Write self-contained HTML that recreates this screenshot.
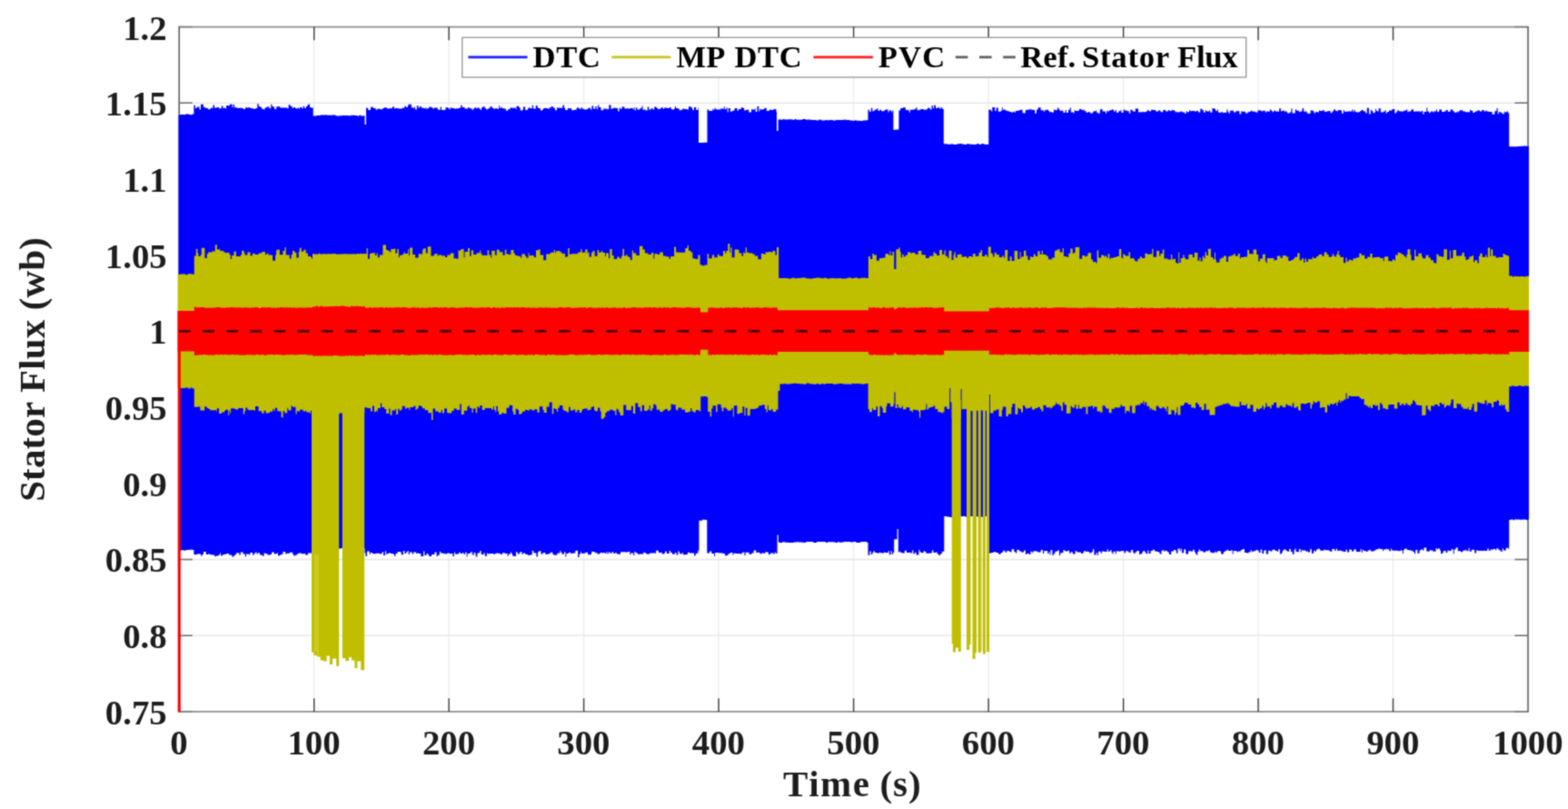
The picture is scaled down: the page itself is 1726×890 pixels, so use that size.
<!DOCTYPE html>
<html lang="en">
<head>
<meta charset="utf-8">
<title>Stator Flux - DTC / MP DTC / PVC</title>
<style>
html,body{margin:0;padding:0;background:#fff;}
body{width:1726px;height:890px;overflow:hidden;}
svg{display:block;}
text{font-family:"Liberation Serif","Times New Roman",Times,serif;font-weight:bold;fill:#1c1c1c;}
.tk{font-size:38.8px;}
.lb{font-size:41px;letter-spacing:1px;}
.lg text{font-size:34.6px;fill:#000;}
</style>
</head>
<body>
<svg width="1726" height="890" viewBox="0 0 1726 890">
<defs><filter id="soft" x="0" y="0" width="1726" height="890" filterUnits="userSpaceOnUse" color-interpolation-filters="sRGB"><feConvolveMatrix order="3" kernelMatrix="1 2 1 2 8 2 1 2 1" divisor="20" edgeMode="duplicate" preserveAlpha="true"/></filter></defs>
<rect x="0" y="0" width="1726" height="890" fill="#fff"/>
<g filter="url(#soft)">
<rect x="0" y="0" width="1726" height="890" fill="#fff"/>
<g stroke-width="1.6" fill="none">
<path stroke="#ececec" stroke-width="1.3" d="M345.7 29.6V782.9M494.2 29.6V782.9M642.6 29.6V782.9M791.1 29.6V782.9M939.6 29.6V782.9M1088.1 29.6V782.9M1236.6 29.6V782.9M1385 29.6V782.9M1533.5 29.6V782.9"/>
<path stroke="#e4e4e4" stroke-width="1.3" d="M197.2 113.3H1682M197.2 197H1682M197.2 280.7H1682M197.2 364.4H1682M197.2 448.1H1682M197.2 531.8H1682M197.2 615.5H1682M197.2 699.2H1682"/>
</g>
<g fill="none" stroke-width="1.8">
<path stroke="#8c8c8c" stroke-width="1.9" d="M196.4 29.6H1682.8M196.4 782.9H1682.8"/>
<path stroke="#3a3a3a" stroke-width="1.3" d="M197.2 29.6V782.9M1682 29.6V782.9"/>
<path stroke="#3a3a3a" stroke-width="1.4" d="M345.7 782.9v-14.6M345.7 29.6v14.6M494.2 782.9v-14.6M494.2 29.6v14.6M642.6 782.9v-14.6M642.6 29.6v14.6M791.1 782.9v-14.6M791.1 29.6v14.6M939.6 782.9v-14.6M939.6 29.6v14.6M1088.1 782.9v-14.6M1088.1 29.6v14.6M1236.6 782.9v-14.6M1236.6 29.6v14.6M1385 782.9v-14.6M1385 29.6v14.6M1533.5 782.9v-14.6M1533.5 29.6v14.6"/>
<path stroke="#6a6a6a" stroke-width="1.4" d="M197.2 113.3h14.6M1682 113.3h-14.6M197.2 197h14.6M1682 197h-14.6M197.2 280.7h14.6M1682 280.7h-14.6M197.2 364.4h14.6M1682 364.4h-14.6M197.2 448.1h14.6M1682 448.1h-14.6M197.2 531.8h14.6M1682 531.8h-14.6M197.2 615.5h14.6M1682 615.5h-14.6M197.2 699.2h14.6M1682 699.2h-14.6"/>
<path stroke="#444444" stroke-opacity="0.3" stroke-width="1.7" d="M197.2 29.6h14.6M1682 29.6h-14.6M197.2 782.9h14.6M1682 782.9h-14.6"/>
</g>
<path fill="#0000ff" d="M196.5 126.4L198.4 126.4L198.4 125.9L202 125.9L202 126.3L204.1 126.3L204.1 125.6L207.9 125.6L207.9 125.9L209.5 125.9L209.5 126.2L211.7 126.2L211.7 125.5L213.4 125.5L213.4 115.7L214.9 115.7L214.9 118.9L216.7 118.9L216.7 117.4L219.5 117.4L219.5 120.4L221 120.4L221 114.8L223.8 114.8L223.8 117.8L225.3 117.8L225.3 118.5L227.1 118.5L227.1 119L228.9 119L228.9 120.2L231.7 120.2L231.7 118.8L234.5 118.8L234.5 115.5L236 115.5L236 118.5L238.8 118.5L238.8 118.1L241 118.1L241 119.2L243.8 119.2L243.8 116.4L245.3 116.4L245.3 118.8L248.1 118.8L248.1 119.6L249.1 119.6L249.1 115.9L251.3 115.9L251.3 116.6L252.8 116.6L252.8 114.8L255.6 114.8L255.6 118.2L256.6 118.2L256.6 114.9L258.1 114.9L258.1 118.2L259.6 118.2L259.6 118.2L261.1 118.2L261.1 119.1L262.9 119.1L262.9 118.8L264.7 118.8L264.7 118.8L266.9 118.8L266.9 119.2L267.9 119.2L267.9 120L270.1 120L270.1 118L271.6 118L271.6 118.8L272.6 118.8L272.6 118.2L275.4 118.2L275.4 118.9L276.9 118.9L276.9 119.3L278.7 119.3L278.7 119.7L281.5 119.7L281.5 119.1L283.3 119.1L283.3 114.3L284.8 114.3L284.8 117L286.6 117L286.6 118.1L288.1 118.1L288.1 119.7L289.9 119.7L289.9 120.5L291.4 120.5L291.4 118.4L293.6 118.4L293.6 117.6L296.4 117.6L296.4 119.3L298.2 119.3L298.2 114.7L299.4 114.7L299.4 117.1L300.9 117.1L300.9 117.7L302.1 117.7L302.1 119.9L304.3 119.9L304.3 117.2L306.1 117.2L306.1 117.3L308.3 117.3L308.3 118.4L309.3 118.4L309.3 118.4L311.5 118.4L311.5 118.6L313.3 118.6L313.3 118.6L316.1 118.6L316.1 119.2L317.6 119.2L317.6 115.2L319.4 115.2L319.4 116.7L321.6 116.7L321.6 119.1L322.6 119.1L322.6 118.4L323.6 118.4L323.6 117.9L325.1 117.9L325.1 119.3L326.6 119.3L326.6 119.5L327.8 119.5L327.8 118.4L329 118.4L329 119.5L330 119.5L330 118.2L331 118.2L331 117.7L332.2 117.7L332.2 119.2L333.7 119.2L333.7 116.8L335.2 116.8L335.2 119L337 119L337 117.1L338.5 117.1L338.5 115.2L340 115.2L340 114.5L341 114.5L341 118.1L342.2 118.1L342.2 118.5L344.7 118.5L344.7 127.4L348.6 127.4L348.6 126.9L350.9 126.9L350.9 127L352.9 127L352.9 126.5L356.1 126.5L356.1 126.5L357.7 126.5L357.7 126.5L360.3 126.5L360.3 126.7L362.7 126.7L362.7 126.8L365.7 126.8L365.7 126.6L369.2 126.6L369.2 127.3L370.9 127.3L370.9 127.4L374.1 127.4L374.1 127.3L376.7 127.3L376.7 127L380.2 127L380.2 127L382.9 127L382.9 127.3L386.5 127.3L386.5 126.8L390.1 126.8L390.1 127.1L393 127.1L393 127.4L395.7 127.4L395.7 126.6L397.2 126.6L397.2 127.5L399.9 127.5L399.9 127.2L401.5 127.2L401.5 137L403 137L403 118.8L405.2 118.8L405.2 121L408 121L408 117.8L410.8 117.8L410.8 119.1L413.6 119.1L413.6 120.7L415.4 120.7L415.4 119.4L416.4 119.4L416.4 119.7L418.6 119.7L418.6 120.3L421.4 120.3L421.4 119.1L422.4 119.1L422.4 118.8L423.4 118.8L423.4 118L424.4 118L424.4 118.5L426.2 118.5L426.2 119.6L429 119.6L429 119L430 119L430 119.2L431.8 119.2L431.8 117.6L434 117.6L434 119.5L435.2 119.5L435.2 119.1L436.7 119.1L436.7 119.1L438.2 119.1L438.2 119.6L439.4 119.6L439.4 119.6L441.2 119.6L441.2 119.6L443 119.6L443 118.4L444.2 118.4L444.2 118.8L445.4 118.8L445.4 116.8L447.2 116.8L447.2 118.1L449 118.1L449 115.5L450 115.5L450 114.7L452.8 114.7L452.8 118.2L455 118.2L455 118.9L456 118.9L456 117.4L457 117.4L457 120.4L458.8 120.4L458.8 116.3L460.6 116.3L460.6 119L461.6 119L461.6 117.6L462.8 117.6L462.8 117.1L464 117.1L464 118.8L466.8 118.8L466.8 119.2L468.6 119.2L468.6 118.2L469.6 118.2L469.6 120.1L470.6 120.1L470.6 118.9L472.4 118.9L472.4 117.4L474.6 117.4L474.6 118.2L476.4 118.2L476.4 119.6L477.9 119.6L477.9 118.5L480.7 118.5L480.7 118.8L481.9 118.8L481.9 120.7L484.7 120.7L484.7 117.4L485.9 117.4L485.9 121L488.7 121L488.7 121L490.5 121L490.5 118.2L493.3 118.2L493.3 119.3L494.8 119.3L494.8 120.6L495.8 120.6L495.8 118.3L497.3 118.3L497.3 119.1L500.1 119.1L500.1 119.7L501.9 119.7L501.9 119.1L502.9 119.1L502.9 119.8L504.4 119.8L504.4 118.8L507.2 118.8L507.2 115.8L508.7 115.8L508.7 118.1L511.5 118.1L511.5 119.6L513.7 119.6L513.7 119.5L515.2 119.5L515.2 118.1L516.7 118.1L516.7 119.2L519.5 119.2L519.5 120.8L521.3 120.8L521.3 119.2L522.8 119.2L522.8 117.9L524 117.9L524 119.3L525.8 119.3L525.8 118.3L527.3 118.3L527.3 119.6L528.8 119.6L528.8 120.9L530 120.9L530 118.4L531 118.4L531 117.4L533.8 117.4L533.8 119L535 119L535 120.6L536.2 120.6L536.2 119.7L538.4 119.7L538.4 118.6L539.6 118.6L539.6 117.2L541.8 117.2L541.8 119.1L543 119.1L543 119.6L545.8 119.6L545.8 119L547 119L547 119.8L549.2 119.8L549.2 116.2L550.2 116.2L550.2 119.1L551.2 119.1L551.2 117.9L552.7 117.9L552.7 119.2L555.5 119.2L555.5 119.8L557 119.8L557 121.7L559.2 121.7L559.2 120.3L560.2 120.3L560.2 119.9L561.7 119.9L561.7 118.2L563.2 118.2L563.2 118.7L566 118.7L566 118.6L567.5 118.6L567.5 120.1L568.5 120.1L568.5 116.8L569.7 116.8L569.7 116.7L571.2 116.7L571.2 118.2L572.7 118.2L572.7 121.5L574.9 121.5L574.9 121L575.9 121L575.9 117.5L578.1 117.5L578.1 120.9L580.3 120.9L580.3 120.4L581.3 120.4L581.3 118.4L582.3 118.4L582.3 118.4L583.3 118.4L583.3 118.9L584.3 118.9L584.3 119.2L585.8 119.2L585.8 115.8L587 115.8L587 119.4L589.8 119.4L589.8 116.1L591.6 116.1L591.6 118.4L592.6 118.4L592.6 118.9L594.8 118.9L594.8 121.5L597 121.5L597 120.6L598.2 120.6L598.2 119.1L600.4 119.1L600.4 118.9L603.2 118.9L603.2 119.8L604.7 119.8L604.7 118.3L606.9 118.3L606.9 117L608.7 117L608.7 118.6L610.9 118.6L610.9 121.2L613.1 121.2L613.1 118.2L614.3 118.2L614.3 118.8L617.1 118.8L617.1 118.7L619.3 118.7L619.3 115.8L621.1 115.8L621.1 118.8L622.1 118.8L622.1 120.9L624.9 120.9L624.9 119L626.4 119L626.4 119.4L627.6 119.4L627.6 119L629.1 119L629.1 121.3L631.9 121.3L631.9 120.8L634.7 120.8L634.7 118.5L637.5 118.5L637.5 119.7L639.7 119.7L639.7 118L640.9 118L640.9 119.8L643.1 119.8L643.1 120.5L645.9 120.5L645.9 120.1L647.4 120.1L647.4 118.8L650.2 118.8L650.2 120.8L651.4 120.8L651.4 116.6L653.2 116.6L653.2 119.7L655.4 119.7L655.4 116.9L656.9 116.9L656.9 120.3L658.1 120.3L658.1 115.6L659.3 115.6L659.3 117.9L661.5 117.9L661.5 121.3L664.3 121.3L664.3 119L665.5 119L665.5 119.9L667.3 119.9L667.3 119.3L668.3 119.3L668.3 120.4L669.3 120.4L669.3 120.1L670.3 120.1L670.3 115.6L672.5 115.6L672.5 119.7L674.3 119.7L674.3 118.9L676.1 118.9L676.1 118.4L677.3 118.4L677.3 119L680.1 119L680.1 122.6L681.6 122.6L681.6 118.8L682.8 118.8L682.8 119.7L684.6 119.7L684.6 117.4L687.4 117.4L687.4 119.5L690.2 119.5L690.2 119.3L691.7 119.3L691.7 119.5L693.9 119.5L693.9 118.9L696.7 118.9L696.7 120.2L697.7 120.2L697.7 118.3L698.7 118.3L698.7 121.4L699.9 121.4L699.9 118.2L701.4 118.2L701.4 120.6L702.6 120.6L702.6 120.6L704.1 120.6L704.1 119.5L705.6 119.5L705.6 118.5L706.6 118.5L706.6 116.6L707.6 116.6L707.6 120.9L708.8 120.9L708.8 120.5L710.6 120.5L710.6 121.6L712.8 121.6L712.8 117.6L714.3 117.6L714.3 120.7L715.5 120.7L715.5 120.6L716.5 120.6L716.5 119.2L718.7 119.2L718.7 120.6L720.2 120.6L720.2 117.4L722.4 117.4L722.4 118.8L723.9 118.8L723.9 119.9L725.7 119.9L725.7 119.7L727.5 119.7L727.5 118.2L729.7 118.2L729.7 119.8L731.2 119.8L731.2 118.4L734 118.4L734 119.1L736.8 119.1L736.8 118L738.6 118L738.6 119.9L739.8 119.9L739.8 120.4L742 120.4L742 119.4L743 119.4L743 116.7L744 116.7L744 119.1L746.2 119.1L746.2 119.6L747.7 119.6L747.7 121.2L749.9 121.2L749.9 120.8L751.4 120.8L751.4 119.6L753.2 119.6L753.2 120.1L754.7 120.1L754.7 119.9L756.2 119.9L756.2 120.4L758 120.4L758 117.3L759.2 117.3L759.2 117.3L760.7 117.3L760.7 118.5L762.2 118.5L762.2 121.1L764 121.1L764 118L766.2 118L766.2 121L768.4 121L768.4 118.8L769 118.8L769 157L771 157L771 156.9L774.6 156.9L774.6 156.8L778.3 156.8L778.3 156.9L778.5 156.9L778.5 120.5L780.3 120.5L780.3 122.1L782.1 122.1L782.1 121.9L784.3 121.9L784.3 119.8L785.3 119.8L785.3 121.1L786.5 121.1L786.5 118.8L787.7 118.8L787.7 120.3L788.9 120.3L788.9 120.5L790.7 120.5L790.7 120.4L793.5 120.4L793.5 118.9L794.5 118.9L794.5 119.7L796.7 119.7L796.7 117.2L797.7 117.2L797.7 120.2L799.5 120.2L799.5 118.2L800.7 118.2L800.7 123.4L801.7 123.4L801.7 119L803.9 119L803.9 123L805.1 123L805.1 122.3L806.9 122.3L806.9 121.5L808.7 121.5L808.7 119L811.5 119L811.5 121.8L813 121.8L813 119.9L815.8 119.9L815.8 118.3L818 118.3L818 119.1L819.2 119.1L819.2 121.5L821 121.5L821 121.1L822.5 121.1L822.5 120.7L824.3 120.7L824.3 123.4L827.1 123.4L827.1 120.2L828.3 120.2L828.3 120.5L829.3 120.5L829.3 120.7L830.5 120.7L830.5 119.5L831.7 119.5L831.7 123.1L833.5 123.1L833.5 117.1L835.3 117.1L835.3 122.5L836.3 122.5L836.3 120.2L837.3 120.2L837.3 120.3L838.3 120.3L838.3 120.5L840.1 120.5L840.1 119.9L841.6 119.9L841.6 118.6L842.6 118.6L842.6 119.1L843.8 119.1L843.8 121.9L846.6 121.9L846.6 120.8L849.4 120.8L849.4 121L851.6 121L851.6 120L854.4 120L854.4 122.7L855 122.7L855 144L856.6 144L856.6 131.4L860 131.4L860 131.7L861.7 131.7L861.7 130.9L863.3 130.9L863.3 131.4L866.7 131.4L866.7 131.4L868.3 131.4L868.3 131.3L871.1 131.3L871.1 131.4L872.8 131.4L872.8 132L874.4 132L874.4 131.1L876.6 131.1L876.6 131.7L880.5 131.7L880.5 131.8L883.3 131.8L883.3 131.1L886.9 131.1L886.9 131.7L888.8 131.7L888.8 131.4L891.3 131.4L891.3 131.7L893.4 131.7L893.4 132.1L895.7 132.1L895.7 132.1L898.6 132.1L898.6 132.4L900.8 132.4L900.8 131.8L904.5 131.8L904.5 132.4L908.2 132.4L908.2 132L910.4 132L910.4 132.3L913.4 132.3L913.4 131.9L916.8 131.9L916.8 132.6L920 132.6L920 131.9L923.5 131.9L923.5 132L926.3 132L926.3 132.1L927.9 132.1L927.9 131.8L931.8 131.8L931.8 132L935.3 132L935.3 132.4L938 132.4L938 132.8L941.1 132.8L941.1 132.3L942.8 132.3L942.8 132.8L946.3 132.8L946.3 132.9L949.7 132.9L949.7 132.4L952.9 132.4L952.9 132.2L955.5 132.2L955.5 120.8L957 120.8L957 122.7L958.8 122.7L958.8 118.7L960.3 118.7L960.3 122.2L962.1 122.2L962.1 121.4L963.1 121.4L963.1 120.5L965.3 120.5L965.3 119.2L966.5 119.2L966.5 122.1L968.3 122.1L968.3 120.8L970.1 120.8L970.1 122.3L971.3 122.3L971.3 122.2L973.5 122.2L973.5 121.2L974.7 121.2L974.7 120.5L977.5 120.5L977.5 123.5L978.5 123.5L978.5 121.6L981.3 121.6L981.3 123.4L982.3 123.4L982.3 121.4L983.4 121.4L983.4 142.8L986.8 142.8L986.8 142.5L989.4 142.5L989.4 121.4L991.2 121.4L991.2 119.1L994 119.1L994 118.2L996.8 118.2L996.8 120.9L998.6 120.9L998.6 121.3L1000.8 121.3L1000.8 123.7L1001.8 123.7L1001.8 120.7L1004.6 120.7L1004.6 120.5L1006.8 120.5L1006.8 120.1L1008 120.1L1008 118.4L1009.5 118.4L1009.5 121.3L1010.5 121.3L1010.5 121.3L1012.3 121.3L1012.3 120.4L1014.1 120.4L1014.1 120L1016.9 120L1016.9 121.1L1018.1 121.1L1018.1 120.5L1020.9 120.5L1020.9 118.7L1023.7 118.7L1023.7 120.4L1025.5 120.4L1025.5 116.2L1027 116.2L1027 119.2L1028.2 119.2L1028.2 115.7L1030 115.7L1030 119.1L1032.2 119.1L1032.2 118.3L1034.4 118.3L1034.4 119.7L1035.6 119.7L1035.6 118.3L1037.4 118.3L1037.4 119.9L1038.8 119.9L1038.8 158.3L1042.7 158.3L1042.7 158.8L1045.8 158.8L1045.8 158.6L1049.7 158.6L1049.7 159.1L1053.6 159.1L1053.6 158.3L1056.2 158.3L1056.2 158.1L1058.4 158.1L1058.4 158.6L1061.1 158.6L1061.1 158.9L1064 158.9L1064 158.3L1067.2 158.3L1067.2 158.7L1070.8 158.7L1070.8 159L1074.7 159L1074.7 158.2L1076.5 158.2L1076.5 158.3L1078 158.3L1078 159L1080.3 159L1080.3 158.1L1082.4 158.1L1082.4 158.4L1084.1 158.4L1084.1 158.9L1086.2 158.9L1086.2 158.9L1088.3 158.9L1088.3 120.8L1091.1 120.8L1091.1 122.5L1092.3 122.5L1092.3 118.1L1095.1 118.1L1095.1 121.9L1096.6 121.9L1096.6 118.6L1098.8 118.6L1098.8 122.8L1101.6 122.8L1101.6 122.1L1102.8 122.1L1102.8 118.3L1103.8 118.3L1103.8 121.1L1104.8 121.1L1104.8 120.4L1106.6 120.4L1106.6 121.4L1108.1 121.4L1108.1 121.9L1109.6 121.9L1109.6 122.6L1111.4 122.6L1111.4 122.9L1113.2 122.9L1113.2 123.8L1114.7 123.8L1114.7 122.8L1116.5 122.8L1116.5 123.7L1117.7 123.7L1117.7 122.1L1120.5 122.1L1120.5 121.5L1122.7 121.5L1122.7 120.7L1125.5 120.7L1125.5 124.3L1127.3 124.3L1127.3 124.5L1128.8 124.5L1128.8 121.1L1130.6 121.1L1130.6 120.7L1133.4 120.7L1133.4 120.1L1134.9 120.1L1134.9 120.7L1137.7 120.7L1137.7 120.9L1139.2 120.9L1139.2 124.8L1141 124.8L1141 120.5L1142.8 120.5L1142.8 118.2L1145.6 118.2L1145.6 121.3L1146.6 121.3L1146.6 121.5L1147.6 121.5L1147.6 121L1148.8 121L1148.8 123.1L1149.8 123.1L1149.8 121.2L1151.3 121.2L1151.3 120.8L1154.1 120.8L1154.1 122.2L1155.3 122.2L1155.3 123.2L1158.1 123.2L1158.1 123.8L1159.9 123.8L1159.9 120.4L1161.4 120.4L1161.4 121.2L1162.9 121.2L1162.9 120.9L1163.9 120.9L1163.9 118.6L1165.4 118.6L1165.4 120.3L1166.4 120.3L1166.4 121.7L1167.6 121.7L1167.6 121.8L1170.4 121.8L1170.4 123.9L1172.6 123.9L1172.6 121L1173.8 121L1173.8 123.9L1176 123.9L1176 120.8L1177.8 120.8L1177.8 118.3L1178.8 118.3L1178.8 123.6L1181.6 123.6L1181.6 124.5L1182.6 124.5L1182.6 121.2L1183.8 121.2L1183.8 122L1186 122L1186 122L1187.8 122L1187.8 120.1L1190.6 120.1L1190.6 121.2L1192.4 121.2L1192.4 120.4L1193.6 120.4L1193.6 122.2L1195.8 122.2L1195.8 123.9L1197.6 123.9L1197.6 123L1199.8 123L1199.8 124.6L1201.3 124.6L1201.3 124.4L1203.1 124.4L1203.1 122.5L1205.9 122.5L1205.9 121.6L1207.1 121.6L1207.1 123.8L1208.6 123.8L1208.6 124.8L1210.8 124.8L1210.8 120.2L1213.6 120.2L1213.6 122.4L1214.8 122.4L1214.8 122.5L1217 122.5L1217 124.7L1218.2 124.7L1218.2 121.7L1219.2 121.7L1219.2 122.4L1221 122.4L1221 121.2L1223.8 121.2L1223.8 120.4L1226 120.4L1226 122.8L1227.5 122.8L1227.5 121.3L1229 121.3L1229 123.9L1231.2 123.9L1231.2 122.2L1233.4 122.2L1233.4 121.1L1234.4 121.1L1234.4 124.1L1236.6 124.1L1236.6 120.6L1237.8 120.6L1237.8 121.5L1240.6 121.5L1240.6 122.3L1242.8 122.3L1242.8 124.8L1244.3 124.8L1244.3 120.7L1246.5 120.7L1246.5 121.9L1247.5 121.9L1247.5 122.8L1249.7 122.8L1249.7 119.4L1251.5 119.4L1251.5 119.4L1253 119.4L1253 123.8L1254.2 123.8L1254.2 122.9L1255.2 122.9L1255.2 123.4L1256.2 123.4L1256.2 123.5L1257.4 123.5L1257.4 122.8L1258.4 122.8L1258.4 123.3L1261.2 123.3L1261.2 123.1L1262.4 123.1L1262.4 121.5L1265.2 121.5L1265.2 122.4L1267 122.4L1267 120.8L1269.2 120.8L1269.2 121L1272 121L1272 122.2L1273.5 122.2L1273.5 122.9L1274.7 122.9L1274.7 121.6L1277.5 121.6L1277.5 123.3L1280.3 123.3L1280.3 121L1283.1 121L1283.1 122.4L1285.9 122.4L1285.9 121.1L1287.4 121.1L1287.4 122.3L1288.6 122.3L1288.6 121.8L1290.1 121.8L1290.1 121L1291.3 121L1291.3 121.6L1293.5 121.6L1293.5 123.3L1296.3 123.3L1296.3 123.5L1298.5 123.5L1298.5 122.8L1300.3 122.8L1300.3 122.6L1301.3 122.6L1301.3 123.6L1304.1 123.6L1304.1 125L1305.6 125L1305.6 122.4L1306.8 122.4L1306.8 123.3L1309 123.3L1309 121.3L1310.2 121.3L1310.2 122.3L1312 122.3L1312 121.9L1314.8 121.9L1314.8 122.4L1316.3 122.4L1316.3 122.3L1317.8 122.3L1317.8 121.8L1319 121.8L1319 123.5L1321.2 123.5L1321.2 119.8L1323.4 119.8L1323.4 121.3L1324.9 121.3L1324.9 123.8L1326.7 123.8L1326.7 121.6L1328.2 121.6L1328.2 122.6L1331 122.6L1331 121.6L1332.2 121.6L1332.2 123.7L1334.4 123.7L1334.4 118.9L1336.2 118.9L1336.2 119.7L1338 119.7L1338 121.9L1339.8 121.9L1339.8 120.3L1340.8 120.3L1340.8 123.5L1342.3 123.5L1342.3 124.1L1344.5 124.1L1344.5 122.9L1346 122.9L1346 124.3L1347 124.3L1347 123.7L1348 123.7L1348 124.1L1350.2 124.1L1350.2 120.4L1351.4 120.4L1351.4 122.9L1352.6 122.9L1352.6 125.1L1353.8 125.1L1353.8 121.7L1356.6 121.7L1356.6 121.4L1357.8 121.4L1357.8 123.4L1360.6 123.4L1360.6 122L1362.4 122L1362.4 122.5L1363.4 122.5L1363.4 121.9L1364.4 121.9L1364.4 125.5L1366.2 125.5L1366.2 122.6L1368 122.6L1368 122.8L1370.8 122.8L1370.8 124.4L1373.6 124.4L1373.6 123.3L1375.1 123.3L1375.1 122.9L1376.6 122.9L1376.6 121.5L1377.6 121.5L1377.6 122.3L1379.1 122.3L1379.1 122.8L1380.1 122.8L1380.1 122.7L1382.3 122.7L1382.3 123.8L1384.5 123.8L1384.5 121.2L1385.7 121.2L1385.7 121.5L1388.5 121.5L1388.5 122.4L1390 122.4L1390 121.8L1392.8 121.8L1392.8 123.7L1393.8 123.7L1393.8 122.5L1396 122.5L1396 122.8L1397.8 122.8L1397.8 120.6L1399.3 120.6L1399.3 121.8L1400.5 121.8L1400.5 123.3L1402 123.3L1402 121.8L1403.8 121.8L1403.8 122.4L1406.6 122.4L1406.6 122.7L1408.1 122.7L1408.1 119.3L1409.9 119.3L1409.9 122.4L1411.1 122.4L1411.1 122L1412.6 122L1412.6 121.6L1413.8 121.6L1413.8 122.8L1414.8 122.8L1414.8 122.2L1416.3 122.2L1416.3 123.5L1417.3 123.5L1417.3 124.4L1420.1 124.4L1420.1 123.3L1421.3 123.3L1421.3 119.5L1422.5 119.5L1422.5 124.5L1424.7 124.5L1424.7 124.5L1425.7 124.5L1425.7 120.6L1427.2 120.6L1427.2 121.7L1430 121.7L1430 123.3L1431.2 123.3L1431.2 122.6L1433.4 122.6L1433.4 119.3L1435.2 119.3L1435.2 122.7L1436.7 122.7L1436.7 122.6L1438.5 122.6L1438.5 124.5L1440.3 124.5L1440.3 124.9L1442.5 124.9L1442.5 121.6L1445.3 121.6L1445.3 122.2L1446.3 122.2L1446.3 124.6L1447.8 124.6L1447.8 123.3L1450.6 123.3L1450.6 123.4L1451.8 123.4L1451.8 121.6L1453 121.6L1453 121.9L1454.8 121.9L1454.8 121.7L1456.6 121.7L1456.6 121.1L1457.8 121.1L1457.8 123L1460.6 123L1460.6 122.3L1463.4 122.3L1463.4 122.1L1464.6 122.1L1464.6 124.2L1466.4 124.2L1466.4 122.4L1467.9 122.4L1467.9 120.5L1470.1 120.5L1470.1 122.1L1471.9 122.1L1471.9 122.2L1473.1 122.2L1473.1 120.9L1475.9 120.9L1475.9 121.4L1476.9 121.4L1476.9 124.7L1478.7 124.7L1478.7 121.1L1479.7 121.1L1479.7 122.8L1481.5 122.8L1481.5 122.8L1483.7 122.8L1483.7 122.4L1486.5 122.4L1486.5 122.6L1488.3 122.6L1488.3 120.6L1489.5 120.6L1489.5 123.2L1490.5 123.2L1490.5 121.1L1491.7 121.1L1491.7 122.9L1492.9 122.9L1492.9 123.4L1493.9 123.4L1493.9 123.4L1495.4 123.4L1495.4 123.2L1497.2 123.2L1497.2 121.9L1498.2 121.9L1498.2 121.2L1501 121.2L1501 122.6L1503.2 122.6L1503.2 124.5L1504.7 124.5L1504.7 118.7L1506.9 118.7L1506.9 125.6L1508.7 125.6L1508.7 120.6L1509.7 120.6L1509.7 121.9L1511.2 121.9L1511.2 124.2L1512.7 124.2L1512.7 123.7L1513.9 123.7L1513.9 119.7L1514.9 119.7L1514.9 121.9L1516.1 121.9L1516.1 122.6L1517.6 122.6L1517.6 119.2L1519.8 119.2L1519.8 123.4L1522.6 123.4L1522.6 122.8L1524.4 122.8L1524.4 121.3L1525.6 121.3L1525.6 124.7L1526.8 124.7L1526.8 123L1529 123L1529 121.6L1530.2 121.6L1530.2 121.6L1532.4 121.6L1532.4 119.9L1535.2 119.9L1535.2 124.6L1536.7 124.6L1536.7 123.5L1537.9 123.5L1537.9 121.4L1540.1 121.4L1540.1 122.4L1542.3 122.4L1542.3 122.5L1543.3 122.5L1543.3 122.4L1545.5 122.4L1545.5 121.4L1548.3 121.4L1548.3 120.2L1549.3 120.2L1549.3 123.3L1550.5 123.3L1550.5 122.5L1553.3 122.5L1553.3 120.6L1556.1 120.6L1556.1 122.9L1557.3 122.9L1557.3 122.6L1559.1 122.6L1559.1 122.6L1560.6 122.6L1560.6 122.5L1563.4 122.5L1563.4 123.2L1564.4 123.2L1564.4 122L1566.2 122L1566.2 125.7L1567.4 125.7L1567.4 123.1L1570.2 123.1L1570.2 118.6L1571.2 118.6L1571.2 122.4L1573 122.4L1573 124.6L1574.2 124.6L1574.2 123.3L1575.2 123.3L1575.2 122.5L1577.4 122.5L1577.4 123.6L1578.6 123.6L1578.6 121.9L1579.6 121.9L1579.6 122.7L1580.8 122.7L1580.8 120.6L1582 120.6L1582 123L1584.2 123L1584.2 120.5L1587 120.5L1587 123.1L1589.8 123.1L1589.8 122.5L1591.6 122.5L1591.6 121.1L1593.8 121.1L1593.8 122.9L1595.3 122.9L1595.3 122.7L1596.5 122.7L1596.5 120.6L1599.3 120.6L1599.3 122.4L1601.1 122.4L1601.1 123.9L1602.6 123.9L1602.6 123.5L1604.1 123.5L1604.1 122.4L1605.1 122.4L1605.1 123.4L1606.1 123.4L1606.1 121.8L1607.3 121.8L1607.3 121.3L1610.1 121.3L1610.1 122.5L1612.9 122.5L1612.9 123.3L1614.1 123.3L1614.1 123.2L1616.9 123.2L1616.9 123.4L1617.9 123.4L1617.9 120.8L1619.1 120.8L1619.1 121.8L1621.3 121.8L1621.3 124.1L1623.1 124.1L1623.1 123.3L1624.1 123.3L1624.1 122.4L1625.1 122.4L1625.1 122.5L1626.1 122.5L1626.1 121.5L1628.9 121.5L1628.9 122.4L1631.1 122.4L1631.1 121.3L1633.9 121.3L1633.9 122.8L1635.1 122.8L1635.1 121.7L1636.9 121.7L1636.9 122.7L1639.7 122.7L1639.7 123.1L1642.5 123.1L1642.5 125.7L1645.3 125.7L1645.3 122.2L1647.5 122.2L1647.5 119.1L1648.7 119.1L1648.7 125.6L1649.7 125.6L1649.7 123.2L1652.5 123.2L1652.5 124.4L1654.3 124.4L1654.3 125.5L1655.8 125.5L1655.8 122.7L1656.8 122.7L1656.8 123.4L1658.6 123.4L1658.6 122.6L1660.1 122.6L1660.1 124.4L1661.2 124.4L1661.2 161.3L1663.8 161.3L1663.8 161.2L1667.8 161.2L1667.8 161.3L1670.9 161.3L1670.9 161.1L1673.8 161.1L1673.8 160.8L1677.6 160.8L1677.6 160.4L1680.4 160.4L1680.4 161L1682.1 161L1682.1 160.8L1683 160.8L1683 571.6L1681.8 571.6L1681.8 572.1L1679.8 572.1L1679.8 571.4L1675.9 571.4L1675.9 571.8L1673.1 571.8L1673.1 571.6L1669.6 571.6L1669.6 571.6L1667 571.6L1667 572.2L1665.5 572.2L1665.5 571.5L1662.8 571.5L1662.8 572L1661.2 572L1661.2 604.6L1660.5 604.6L1660.5 602.7L1657.7 602.7L1657.7 605.4L1654.9 605.4L1654.9 603.4L1653.7 603.4L1653.7 607L1652.2 607L1652.2 605.5L1650.7 605.5L1650.7 605L1649.5 605L1649.5 603.3L1647.3 603.3L1647.3 605.3L1646.1 605.3L1646.1 603.9L1643.3 603.9L1643.3 605.2L1642.3 605.2L1642.3 604.2L1640.8 604.2L1640.8 605.8L1638.6 605.8L1638.6 603.6L1637.1 603.6L1637.1 605.9L1634.3 605.9L1634.3 605.6L1633.3 605.6L1633.3 606L1630.5 606L1630.5 605.8L1629 605.8L1629 606L1627.2 606L1627.2 605.6L1625 605.6L1625 608.6L1623.2 608.6L1623.2 604.7L1621 604.7L1621 604.8L1619.8 604.8L1619.8 606.7L1617.6 606.7L1617.6 602.8L1616.6 602.8L1616.6 606.1L1615.4 606.1L1615.4 606.4L1614.4 606.4L1614.4 604.7L1613.4 604.7L1613.4 605.5L1611.6 605.5L1611.6 605.7L1610.1 605.7L1610.1 607.2L1607.9 607.2L1607.9 606.2L1606.9 606.2L1606.9 606.1L1605.7 606.1L1605.7 606.4L1604.7 606.4L1604.7 602.6L1602.5 602.6L1602.5 604.4L1600.7 604.4L1600.7 609.3L1599.7 609.3L1599.7 604.2L1597.5 604.2L1597.5 606.1L1596.3 606.1L1596.3 605.9L1594.8 605.9L1594.8 605.6L1593.3 605.6L1593.3 608L1591.5 608L1591.5 606L1588.7 606L1588.7 608.6L1587.2 608.6L1587.2 609.3L1586 609.3L1586 605.4L1585 605.4L1585 603.5L1582.8 603.5L1582.8 604.6L1581.8 604.6L1581.8 603L1580.6 603L1580.6 606.5L1579.6 606.5L1579.6 606.8L1577.4 606.8L1577.4 605.6L1575.2 605.6L1575.2 605.2L1573.4 605.2L1573.4 606.9L1572.4 606.9L1572.4 606.4L1570.2 606.4L1570.2 602.6L1567.4 602.6L1567.4 605.5L1565.9 605.5L1565.9 604.2L1564.7 604.2L1564.7 604.7L1563.7 604.7L1563.7 605.6L1562.5 605.6L1562.5 608.8L1560.3 608.8L1560.3 605.1L1558.1 605.1L1558.1 609.3L1556.9 609.3L1556.9 607.2L1555.7 607.2L1555.7 606.2L1554.2 606.2L1554.2 605.5L1551.4 605.5L1551.4 605.1L1548.6 605.1L1548.6 603.5L1547.1 603.5L1547.1 603.8L1545.9 603.8L1545.9 605L1544.9 605L1544.9 608.9L1543.9 608.9L1543.9 605.6L1541.7 605.6L1541.7 605.9L1540.7 605.9L1540.7 606.2L1539.2 606.2L1539.2 605.7L1537 605.7L1537 605.7L1534.2 605.7L1534.2 605.4L1532 605.4L1532 603.6L1531 603.6L1531 606.3L1529.2 606.3L1529.2 604L1528.2 604L1528.2 604.7L1527.2 604.7L1527.2 603.7L1525.7 603.7L1525.7 604.6L1522.9 604.6L1522.9 606.3L1521.9 606.3L1521.9 603.9L1519.1 603.9L1519.1 603.6L1517.3 603.6L1517.3 604.3L1514.5 604.3L1514.5 605.7L1513.5 605.7L1513.5 605.3L1512.5 605.3L1512.5 606.5L1509.7 606.5L1509.7 606.3L1508.7 606.3L1508.7 604.4L1507.7 604.4L1507.7 605.4L1505.5 605.4L1505.5 607.1L1503.7 607.1L1503.7 606L1500.9 606L1500.9 604.8L1499.9 604.8L1499.9 607.7L1498.7 607.7L1498.7 604.1L1497.5 604.1L1497.5 606.9L1494.7 606.9L1494.7 606.9L1492.9 606.9L1492.9 604.6L1490.1 604.6L1490.1 606.5L1489.1 606.5L1489.1 606.8L1488.1 606.8L1488.1 604.7L1486.3 604.7L1486.3 604.6L1485.1 604.6L1485.1 607.6L1482.9 607.6L1482.9 604.7L1481.4 604.7L1481.4 607.1L1479.2 607.1L1479.2 606.6L1477 606.6L1477 605.7L1474.8 605.7L1474.8 605.4L1473.6 605.4L1473.6 606L1472.1 606L1472.1 603.8L1470.6 603.8L1470.6 606L1469.1 606L1469.1 604.1L1466.3 604.1L1466.3 606.8L1464.1 606.8L1464.1 605.9L1463.1 605.9L1463.1 605.2L1460.9 605.2L1460.9 605.2L1458.7 605.2L1458.7 604.8L1457.2 604.8L1457.2 605.8L1456.2 605.8L1456.2 605.8L1454 605.8L1454 605.6L1453 605.6L1453 603.8L1450.2 603.8L1450.2 604.8L1448.7 604.8L1448.7 606.9L1447.5 606.9L1447.5 605.7L1446 605.7L1446 608.7L1443.8 608.7L1443.8 604.3L1442 604.3L1442 607.6L1439.8 607.6L1439.8 606.4L1437 606.4L1437 605.2L1435.5 605.2L1435.5 606.1L1434.3 606.1L1434.3 604.9L1432.8 604.9L1432.8 607.5L1431.6 607.5L1431.6 604L1429.8 604L1429.8 607.2L1428 607.2L1428 607L1426.5 607L1426.5 603.4L1425.5 603.4L1425.5 604.9L1424.5 604.9L1424.5 609.8L1422.7 609.8L1422.7 607L1420.9 607L1420.9 603.9L1419.1 603.9L1419.1 606.8L1418.1 606.8L1418.1 606.7L1417.1 606.7L1417.1 605.8L1415.3 605.8L1415.3 604.3L1413.5 604.3L1413.5 605.6L1411.7 605.6L1411.7 608L1410.7 608L1410.7 609.6L1408.9 609.6L1408.9 604.2L1407.1 604.2L1407.1 606.9L1405.9 606.9L1405.9 606L1403.7 606L1403.7 604.7L1401.9 604.7L1401.9 604.7L1400.4 604.7L1400.4 606.6L1398.2 606.6L1398.2 605.7L1396 605.7L1396 609.4L1393.8 609.4L1393.8 605.1L1392.6 605.1L1392.6 605.7L1391.1 605.7L1391.1 609L1389.3 609L1389.3 604.6L1387.5 604.6L1387.5 608.1L1385.7 608.1L1385.7 605.8L1384.5 605.8L1384.5 605L1383.3 605L1383.3 605.5L1381.5 605.5L1381.5 606.4L1378.7 606.4L1378.7 607.2L1377.7 607.2L1377.7 605L1376.7 605L1376.7 607.2L1374.5 607.2L1374.5 608.4L1372.7 608.4L1372.7 608.1L1369.9 608.1L1369.9 604.1L1367.7 604.1L1367.7 605L1365.9 605L1365.9 606.5L1363.1 606.5L1363.1 607.2L1361.6 607.2L1361.6 605.9L1360.4 605.9L1360.4 605.9L1357.6 605.9L1357.6 609.5L1356.6 609.5L1356.6 605.3L1355.1 605.3L1355.1 606L1352.9 606L1352.9 606.1L1351.9 606.1L1351.9 604.4L1350.9 604.4L1350.9 605.8L1348.7 605.8L1348.7 607.1L1346.9 607.1L1346.9 609.5L1344.1 609.5L1344.1 606.4L1342.3 606.4L1342.3 605.9L1340.5 605.9L1340.5 606.9L1339.5 606.9L1339.5 608L1338.3 608L1338.3 606.8L1337.1 606.8L1337.1 608.3L1334.3 608.3L1334.3 607.7L1332.1 607.7L1332.1 605.6L1329.9 605.6L1329.9 606.2L1327.1 606.2L1327.1 607.4L1324.3 607.4L1324.3 606.2L1322.5 606.2L1322.5 606.2L1321 606.2L1321 604.6L1319.8 604.6L1319.8 606.8L1318.3 606.8L1318.3 610.6L1316.8 610.6L1316.8 609L1315.8 609L1315.8 607L1314.8 607L1314.8 604.8L1313 604.8L1313 606.8L1311.5 606.8L1311.5 606.2L1309.3 606.2L1309.3 606.2L1308.1 606.2L1308.1 609.6L1305.3 609.6L1305.3 604.5L1303.1 604.5L1303.1 608.3L1300.9 608.3L1300.9 603.7L1299.7 603.7L1299.7 606.2L1298.7 606.2L1298.7 603.4L1296.5 603.4L1296.5 608.5L1294.7 608.5L1294.7 605.3L1293.7 605.3L1293.7 605.1L1291.9 605.1L1291.9 606.6L1289.1 606.6L1289.1 609.9L1286.9 609.9L1286.9 607.5L1285.4 607.5L1285.4 606.4L1284.4 606.4L1284.4 605.9L1283.4 605.9L1283.4 605.7L1282.2 605.7L1282.2 606.8L1281.2 606.8L1281.2 605.3L1279.7 605.3L1279.7 605.7L1278.5 605.7L1278.5 609.6L1276.7 609.6L1276.7 607.5L1275.2 607.5L1275.2 606.9L1273.7 606.9L1273.7 606.5L1272.2 606.5L1272.2 606.6L1271 606.6L1271 604.8L1268.8 604.8L1268.8 605.9L1266.6 605.9L1266.6 609L1264.4 609L1264.4 605.5L1263.2 605.5L1263.2 609.2L1261.4 609.2L1261.4 607.5L1260.2 607.5L1260.2 605.9L1258.4 605.9L1258.4 606.9L1257.4 606.9L1257.4 609.2L1255.2 609.2L1255.2 609.9L1254 609.9L1254 605.9L1251.2 605.9L1251.2 607.4L1249.4 607.4L1249.4 609.3L1248.2 609.3L1248.2 607.9L1247.2 607.9L1247.2 605.1L1245.7 605.1L1245.7 605.4L1244.7 605.4L1244.7 608L1242.5 608L1242.5 606.6L1240.7 606.6L1240.7 605.9L1239.2 605.9L1239.2 608.2L1237.4 608.2L1237.4 606L1235.9 606L1235.9 606L1233.7 606L1233.7 606.7L1231.5 606.7L1231.5 606.3L1229.7 606.3L1229.7 606.5L1228.7 606.5L1228.7 609.5L1227.7 609.5L1227.7 606.8L1225.5 606.8L1225.5 609.6L1224.5 609.6L1224.5 607.7L1223.5 607.7L1223.5 605.3L1222 605.3L1222 606.8L1219.8 606.8L1219.8 604.2L1218.6 604.2L1218.6 607.1L1215.8 607.1L1215.8 606.4L1213 606.4L1213 608.7L1211.8 608.7L1211.8 606.8L1209 606.8L1209 610.7L1207.8 610.7L1207.8 608L1206.6 608L1206.6 610.5L1204.4 610.5L1204.4 604.3L1202.9 604.3L1202.9 607.2L1201.4 607.2L1201.4 608.4L1199.2 608.4L1199.2 607.1L1197.4 607.1L1197.4 606.8L1196.2 606.8L1196.2 606.8L1194.7 606.8L1194.7 606.1L1193.2 606.1L1193.2 607.6L1192.2 607.6L1192.2 609L1190 609L1190 607.5L1187.8 607.5L1187.8 607.6L1185.6 607.6L1185.6 606.5L1184.6 606.5L1184.6 606L1183.6 606L1183.6 609.4L1180.8 609.4L1180.8 607.2L1178.6 607.2L1178.6 608.7L1177.1 608.7L1177.1 605.8L1175.3 605.8L1175.3 606.5L1173.1 606.5L1173.1 606L1171.6 606L1171.6 605.1L1170.4 605.1L1170.4 607.9L1168.6 607.9L1168.6 608.4L1167.1 608.4L1167.1 611.3L1165.9 611.3L1165.9 605.3L1164.7 605.3L1164.7 606.3L1163.2 606.3L1163.2 606.8L1161.4 606.8L1161.4 608.8L1160.2 608.8L1160.2 610.8L1158.4 610.8L1158.4 605L1156.6 605L1156.6 610.5L1155.6 610.5L1155.6 607.1L1154.6 607.1L1154.6 608.9L1153.1 608.9L1153.1 605.9L1150.3 605.9L1150.3 606.3L1149.1 606.3L1149.1 609L1147.9 609L1147.9 604.9L1145.7 604.9L1145.7 607.6L1143.9 607.6L1143.9 607.6L1142.4 607.6L1142.4 606.7L1141.2 606.7L1141.2 606.2L1138.4 606.2L1138.4 606.6L1137.2 606.6L1137.2 608.2L1136.2 608.2L1136.2 606.7L1134.4 606.7L1134.4 610L1132.9 610L1132.9 609.1L1130.1 609.1L1130.1 610L1128.9 610L1128.9 605.5L1127.1 605.5L1127.1 607.6L1124.3 607.6L1124.3 606.5L1122.1 606.5L1122.1 605.1L1119.3 605.1L1119.3 608.5L1117.8 608.5L1117.8 606.9L1116.3 606.9L1116.3 604.3L1113.5 604.3L1113.5 607.4L1112.5 607.4L1112.5 607.1L1111 607.1L1111 606.1L1108.2 606.1L1108.2 607.7L1106.4 607.7L1106.4 605.7L1104.2 605.7L1104.2 607.5L1103 607.5L1103 608.1L1101.8 608.1L1101.8 609.4L1099 609.4L1099 607.9L1096.2 607.9L1096.2 606.9L1095 606.9L1095 607.2L1093.5 607.2L1093.5 608.1L1092 608.1L1092 608.3L1090.2 608.3L1090.2 608.7L1089 608.7L1089 568.8L1087.4 568.8L1087.4 568L1084.3 568L1084.3 568.5L1082.3 568.5L1082.3 569L1078.5 569L1078.5 568.5L1075.6 568.5L1075.6 567.9L1073.7 567.9L1073.7 568.1L1069.9 568.1L1069.9 568L1066.4 568L1066.4 568.9L1063.3 568.9L1063.3 568.1L1059.4 568.1L1059.4 568.1L1056.9 568.1L1056.9 568.2L1055.1 568.2L1055.1 568.2L1051.2 568.2L1051.2 568.8L1047.9 568.8L1047.9 569L1045.3 569L1045.3 568.6L1042.2 568.6L1042.2 568L1039.3 568L1039.3 606.7L1036.9 606.7L1036.9 609.1L1035.4 609.1L1035.4 610.7L1033.2 610.7L1033.2 609.5L1031.7 609.5L1031.7 607.6L1030.2 607.6L1030.2 608L1027.4 608L1027.4 605.6L1025.9 605.6L1025.9 608.4L1023.1 608.4L1023.1 608.8L1022.1 608.8L1022.1 608.8L1019.3 608.8L1019.3 607L1018.1 607L1018.1 606L1016.9 606L1016.9 607.8L1015.9 607.8L1015.9 608.2L1014.4 608.2L1014.4 607.7L1013.4 607.7L1013.4 607L1012.4 607L1012.4 604.8L1011.4 604.8L1011.4 610.5L1008.6 610.5L1008.6 607.8L1007.1 607.8L1007.1 609.2L1005.3 609.2L1005.3 605.6L1004.1 605.6L1004.1 608.5L1002.3 608.5L1002.3 607.7L1000.8 607.7L1000.8 608.1L998 608.1L998 605.8L995.8 605.8L995.8 608.6L993 608.6L993 607.7L992 607.7L992 607.9L991 607.9L991 606.4L990 606.4L990 607.4L988.8 607.4L988.8 582L987.6 582L987.6 593.2L984.2 593.2L984.2 607.9L983 607.9L983 609.9L981.8 609.9L981.8 606.3L980.6 606.3L980.6 610.2L978.8 610.2L978.8 605.9L977.8 605.9L977.8 608L976.8 608L976.8 607.9L974 607.9L974 607.5L972.8 607.5L972.8 608.8L971.6 608.8L971.6 608.3L968.8 608.3L968.8 607.7L967.3 607.7L967.3 608.9L965.8 608.9L965.8 608.1L964.8 608.1L964.8 608.1L963 608.1L963 606.3L961.5 606.3L961.5 608.1L960.3 608.1L960.3 609.9L958.8 609.9L958.8 606.5L957.3 606.5L957.3 610.8L955.5 610.8L955.5 596.7L954 596.7L954 595.9L951.8 595.9L951.8 595.9L948.1 595.9L948.1 596.5L946.3 596.5L946.3 596.9L942.5 596.9L942.5 596L938.7 596L938.7 596.4L936.3 596.4L936.3 596.1L932.3 596.1L932.3 596.1L928.9 596.1L928.9 596.4L927.2 596.4L927.2 596.8L924.2 596.8L924.2 596.2L921.9 596.2L921.9 597.1L919.8 597.1L919.8 596.4L917.8 596.4L917.8 596.2L914.2 596.2L914.2 596.2L911 596.2L911 596.9L908.9 596.9L908.9 596.1L905.5 596.1L905.5 596L901.9 596L901.9 595.9L899 595.9L899 597L897 597L897 597.1L895.2 597.1L895.2 596L893.7 596L893.7 596.1L890.1 596.1L890.1 595.9L887.1 595.9L887.1 596.9L885.2 596.9L885.2 596.8L882.6 596.8L882.6 596.6L879 596.6L879 596.3L876.7 596.3L876.7 596.6L873.9 596.6L873.9 597L870.6 597L870.6 597L867.8 597L867.8 596.7L863.9 596.7L863.9 596.3L861.4 596.3L861.4 597L858.5 597L858.5 596.8L856.8 596.8L856.8 588.5L855.6 588.5L855.6 608.9L854.1 608.9L854.1 607.4L852.9 607.4L852.9 609.4L851.4 609.4L851.4 608.4L849.6 608.4L849.6 608.4L848.1 608.4L848.1 609.7L846.9 609.7L846.9 610.3L845.9 610.3L845.9 607.4L844.1 607.4L844.1 607.3L842.3 607.3L842.3 608.7L840.1 608.7L840.1 608.3L838.6 608.3L838.6 609.3L836.4 609.3L836.4 607.7L834.2 607.7L834.2 608.1L832.4 608.1L832.4 605.6L829.6 605.6L829.6 608.6L827.4 608.6L827.4 609.7L824.6 609.7L824.6 607.8L822.8 607.8L822.8 607.8L820.6 607.8L820.6 611L819.4 611L819.4 607.4L817.6 607.4L817.6 608.2L816.6 608.2L816.6 609.6L815.4 609.6L815.4 609.2L814.2 609.2L814.2 608.9L811.4 608.9L811.4 608.9L810.2 608.9L810.2 608.8L807.4 608.8L807.4 610.4L806.4 610.4L806.4 608.1L803.6 608.1L803.6 609.2L801.4 609.2L801.4 610.9L800.2 610.9L800.2 611.2L798 611.2L798 608.9L795.8 608.9L795.8 608.4L793 608.4L793 608.2L790.8 608.2L790.8 608L788.6 608L788.6 607.9L787.1 607.9L787.1 612.1L786.1 612.1L786.1 609.1L783.3 609.1L783.3 606.5L781.1 606.5L781.1 608.6L778.3 608.6L778.3 572L776.8 572L776.8 571.7L772.9 571.7L772.9 572.8L769.5 572.8L769.5 610L769.4 610L769.4 605.4L768.4 605.4L768.4 608.5L766.6 608.5L766.6 609.4L765.6 609.4L765.6 611.6L764.1 611.6L764.1 608.5L761.9 608.5L761.9 608.6L759.1 608.6L759.1 607.7L756.9 607.7L756.9 609.9L754.7 609.9L754.7 610.3L751.9 610.3L751.9 608.2L750.7 608.2L750.7 609.4L748.9 609.4L748.9 608.7L747.9 608.7L747.9 606.4L746.4 606.4L746.4 610.4L744.6 610.4L744.6 608.1L742.8 608.1L742.8 609.7L740 609.7L740 608L738.2 608L738.2 606L736.7 606L736.7 609L733.9 609L733.9 606.6L732.1 606.6L732.1 608.7L730.9 608.7L730.9 609.4L728.7 609.4L728.7 607.7L727.7 607.7L727.7 607.9L724.9 607.9L724.9 605.7L722.1 605.7L722.1 609L720.9 609L720.9 607.9L719.9 607.9L719.9 608.4L717.1 608.4L717.1 608.5L715.3 608.5L715.3 609.4L714.1 609.4L714.1 609.4L711.3 609.4L711.3 608.3L709.5 608.3L709.5 607.4L708.3 607.4L708.3 609.6L706.5 609.6L706.5 609.6L703.7 609.6L703.7 610L702.2 610L702.2 608.4L700.7 608.4L700.7 608.1L699.5 608.1L699.5 606.7L698.3 606.7L698.3 610.9L697.1 610.9L697.1 608.5L694.3 608.5L694.3 610.2L693.3 610.2L693.3 606.7L692.1 606.7L692.1 607.3L690.3 607.3L690.3 607.4L688.5 607.4L688.5 607.3L687 607.3L687 607.2L684.8 607.2L684.8 607.3L683 607.3L683 609.8L681.2 609.8L681.2 609.6L679 609.6L679 608.3L676.8 608.3L676.8 608.9L675.3 608.9L675.3 607.2L673.5 607.2L673.5 608.7L672.5 608.7L672.5 608.6L671.5 608.6L671.5 607.6L669.7 607.6L669.7 609.6L668.5 609.6L668.5 607.1L667.5 607.1L667.5 609.1L666 609.1L666 608.1L665 608.1L665 608.2L662.2 608.2L662.2 608L660.4 608L660.4 609.6L657.6 609.6L657.6 608.2L655.4 608.2L655.4 607.4L654.4 607.4L654.4 607L652.9 607L652.9 606.7L651.1 606.7L651.1 609.7L649.9 609.7L649.9 610.2L647.1 610.2L647.1 607.8L644.3 607.8L644.3 608.8L643.1 608.8L643.1 608.8L641.3 608.8L641.3 609L640.1 609L640.1 607.3L639.1 607.3L639.1 609.4L637.6 609.4L637.6 613L636.1 613L636.1 605.8L633.3 605.8L633.3 608.6L630.5 608.6L630.5 609.1L628.3 609.1L628.3 607.7L627.1 607.7L627.1 608.1L625.6 608.1L625.6 609.1L623.4 609.1L623.4 612.4L622.4 612.4L622.4 607.2L620.9 607.2L620.9 609.8L618.7 609.8L618.7 608L617.5 608L617.5 606.1L616.3 606.1L616.3 608.7L615.3 608.7L615.3 608.5L613.5 608.5L613.5 610.5L611.7 610.5L611.7 610.7L609.9 610.7L609.9 610L608.4 610L608.4 607.7L605.6 607.7L605.6 609.2L603.4 609.2L603.4 609.8L601.9 609.8L601.9 609.9L600.4 609.9L600.4 607.9L597.6 607.9L597.6 609.6L595.4 609.6L595.4 606.2L593.2 606.2L593.2 607.2L592 607.2L592 612.4L590.5 612.4L590.5 608.4L588.3 608.4L588.3 608.1L587.3 608.1L587.3 605.7L585.8 605.7L585.8 610.2L583.6 610.2L583.6 610.9L581.4 610.9L581.4 610.1L578.6 610.1L578.6 609.1L577.6 609.1L577.6 608.4L575.4 608.4L575.4 609.9L574.4 609.9L574.4 607L572.6 607L572.6 608.6L571.4 608.6L571.4 609.9L570.4 609.9L570.4 608.6L569.2 608.6L569.2 606.9L568 606.9L568 611.9L566.2 611.9L566.2 611.6L564 611.6L564 609.1L563 609.1L563 607.4L562 607.4L562 609.5L559.8 609.5L559.8 611.8L558.6 611.8L558.6 608.7L557.1 608.7L557.1 609.2L555.9 609.2L555.9 608.2L553.1 608.2L553.1 609.8L550.3 609.8L550.3 608.5L549.1 608.5L549.1 609.1L547.9 609.1L547.9 608.2L546.7 608.2L546.7 609.1L544.9 609.1L544.9 609.8L543.1 609.8L543.1 609L541.3 609L541.3 609L539.5 609L539.5 609.1L538.3 609.1L538.3 609.5L537.1 609.5L537.1 608.4L535.9 608.4L535.9 611.8L533.7 611.8L533.7 608.3L532.5 608.3L532.5 610L529.7 610L529.7 606L528.2 606L528.2 608.3L526.4 608.3L526.4 608.7L525.4 608.7L525.4 613L524.4 613L524.4 611.6L523.4 611.6L523.4 607.9L521.6 607.9L521.6 610.5L519.8 610.5L519.8 607L518.3 607L518.3 608.4L516.8 608.4L516.8 609.1L514.6 609.1L514.6 612.4L513.6 612.4L513.6 607.6L512.1 607.6L512.1 609.8L510.3 609.8L510.3 608.1L509.1 608.1L509.1 608.9L506.9 608.9L506.9 607.8L505.1 607.8L505.1 609.6L503.9 609.6L503.9 609.4L502.7 609.4L502.7 609.6L500.9 609.6L500.9 607.6L499.9 607.6L499.9 611.9L498.4 611.9L498.4 608.9L497.4 608.9L497.4 608.9L495.9 608.9L495.9 609.2L494.9 609.2L494.9 608.6L492.1 608.6L492.1 609.6L491.1 609.6L491.1 609.4L490.1 609.4L490.1 608.8L489.1 608.8L489.1 609.2L487.9 609.2L487.9 608.4L485.1 608.4L485.1 606.8L483.9 606.8L483.9 610.4L482.1 610.4L482.1 612.1L480.6 612.1L480.6 607.6L478.4 607.6L478.4 610L476.6 610L476.6 610L475.1 610L475.1 612L472.3 612L472.3 610.4L471.3 610.4L471.3 609L469.5 609L469.5 611L467.3 611L467.3 606.2L466.1 606.2L466.1 612L463.3 612L463.3 609.1L460.5 609.1L460.5 608.1L459.5 608.1L459.5 609L458 609L458 607.6L455.2 607.6L455.2 609.6L453.7 609.6L453.7 607.4L451.9 607.4L451.9 607.5L450.9 607.5L450.9 610.1L449.7 610.1L449.7 606.1L448.7 606.1L448.7 607.2L447.2 607.2L447.2 609L445.4 609L445.4 606L443.9 606L443.9 610.3L441.7 610.3L441.7 607.2L439.9 607.2L439.9 606.9L437.7 606.9L437.7 608.6L436.7 608.6L436.7 609.2L435.2 609.2L435.2 611.9L434 611.9L434 609.8L432.8 609.8L432.8 608.9L430 608.9L430 608.3L428.8 608.3L428.8 608.8L427.3 608.8L427.3 609L426.1 609L426.1 610.3L425.1 610.3L425.1 606.2L423.9 606.2L423.9 611L422.1 611L422.1 607.3L420.6 607.3L420.6 609.2L417.8 609.2L417.8 608.8L416.6 608.8L416.6 608.7L413.8 608.7L413.8 609.3L411 609.3L411 609.1L410 609.1L410 608L407.8 608L407.8 609.8L406.8 609.8L406.8 606.5L404 606.5L404 612.1L402.5 612.1L402.5 608.6L401.5 608.6L401.5 603.8L401.4 603.8L401.4 603.1L399.4 603.1L399.4 603.4L395.8 603.4L395.8 603.8L393.3 603.8L393.3 603L390.3 603L390.3 602.9L388.4 602.9L388.4 603.2L386.2 603.2L386.2 603.1L384.5 603.1L384.5 603.4L381.9 603.4L381.9 603.7L379.1 603.7L379.1 603.3L377.4 603.3L377.4 603.1L375.5 603.1L375.5 603.4L371.5 603.4L371.5 604.1L369.8 604.1L369.8 603.8L367.7 603.8L367.7 603.3L364.6 603.3L364.6 603.4L361.1 603.4L361.1 604L357.3 604L357.3 603.5L353.8 603.5L353.8 602.9L350.8 602.9L350.8 603.5L347.4 603.5L347.4 603.2L345.6 603.2L345.6 603.3L343 603.3L343 608.5L341.1 608.5L341.1 608.5L338.9 608.5L338.9 610.4L336.1 610.4L336.1 609.1L334.9 609.1L334.9 609.3L333.1 609.3L333.1 609.3L331.6 609.3L331.6 608.5L328.8 608.5L328.8 609.1L327.3 609.1L327.3 610.4L325.1 610.4L325.1 611.4L323.3 611.4L323.3 609.9L322.3 609.9L322.3 607.8L319.5 607.8L319.5 607.7L318.5 607.7L318.5 609.1L316.7 609.1L316.7 608.4L315.7 608.4L315.7 609.6L314.2 609.6L314.2 607.1L311.4 607.1L311.4 609.7L309.6 609.7L309.6 610.4L307.8 610.4L307.8 611.4L306 611.4L306 608.6L304.8 608.6L304.8 608.9L303.6 608.9L303.6 609.4L301.8 609.4L301.8 607.4L299 607.4L299 610L297.2 610L297.2 610.4L294.4 610.4L294.4 609.1L291.6 609.1L291.6 608.2L290.6 608.2L290.6 611.8L288.8 611.8L288.8 610.6L286 610.6L286 608.3L283.8 608.3L283.8 609.4L282.6 609.4L282.6 607.5L281.4 607.5L281.4 608.6L279.9 608.6L279.9 610.5L278.1 610.5L278.1 608L275.3 608L275.3 610.3L273.8 610.3L273.8 609.6L271 609.6L271 612.4L269.8 612.4L269.8 609.6L267.6 609.6L267.6 607.6L264.8 607.6L264.8 610.4L263.3 610.4L263.3 608.3L260.5 608.3L260.5 609.4L259 609.4L259 610.9L257.5 610.9L257.5 612.6L255.3 612.6L255.3 610.6L253.8 610.6L253.8 610.5L252 610.5L252 608.9L249.2 608.9L249.2 609.8L247 609.8L247 610.3L244.8 610.3L244.8 611.5L243 611.5L243 608.4L242 608.4L242 610.4L240.5 610.4L240.5 611.5L237.7 611.5L237.7 612.2L236.2 612.2L236.2 610.4L234 610.4L234 610.2L231.2 610.2L231.2 609.4L229 609.4L229 610L226.8 610L226.8 607.1L224 607.1L224 610.1L222.5 610.1L222.5 611.7L221.3 611.7L221.3 609.8L219.8 609.8L219.8 609.3L217.6 609.3L217.6 609.7L216.4 609.7L216.4 610.2L214.9 610.2L214.9 609.9L213.4 609.9L213.4 605.1L212.4 605.1L212.4 604.8L208.4 604.8L208.4 605.1L204.5 605.1L204.5 605.8L202.4 605.8L202.4 605.3L199.5 605.3L199.5 605.8L196.5 605.8Z"/>
<path fill="#bfbf00" d="M195.6 302.1L198.7 302.1L198.7 301.4L201.4 301.4L201.4 301.5L204.1 301.5L204.1 302.2L206.8 302.2L206.8 301.3L208.5 301.3L208.5 301.2L211.5 301.2L211.5 301.7L213.8 301.7L213.8 281.6L215.8 281.6L215.8 273.8L217.4 273.8L217.4 278.4L218.4 278.4L218.4 282.1L220.8 282.1L220.8 280.3L221.8 280.3L221.8 272.8L225.4 272.8L225.4 284.1L227.8 284.1L227.8 279.2L229.4 279.2L229.4 277.2L231 277.2L231 277.6L233.4 277.6L233.4 276.3L234.4 276.3L234.4 276.6L236.8 276.6L236.8 269.2L238.8 269.2L238.8 274.6L240.8 274.6L240.8 274.2L242.4 274.2L242.4 276.1L246 276.1L246 277.2L247.6 277.2L247.6 278.3L248.9 278.3L248.9 278L252.5 278L252.5 280.3L253.8 280.3L253.8 285.1L255.1 285.1L255.1 281L257.5 281L257.5 276.8L259.9 276.8L259.9 282L263.5 282L263.5 282.3L264.8 282.3L264.8 280.5L266.1 280.5L266.1 275.8L268.5 275.8L268.5 278.1L269.5 278.1L269.5 280.4L272.5 280.4L272.5 277.6L275.5 277.6L275.5 281.3L277.9 281.3L277.9 278.7L279.5 278.7L279.5 279.2L281.1 279.2L281.1 280.1L284.7 280.1L284.7 278.4L288.3 278.4L288.3 276.9L291.9 276.9L291.9 280.3L293.5 280.3L293.5 278.7L295.5 278.7L295.5 280.4L299.1 280.4L299.1 280.7L300.1 280.7L300.1 286.8L303.1 286.8L303.1 280.6L304.1 280.6L304.1 275.2L305.4 275.2L305.4 274.6L307.8 274.6L307.8 280.3L311.4 280.3L311.4 275.9L313.4 275.9L313.4 272L314.7 272L314.7 280.4L316.7 280.4L316.7 280.5L318.7 280.5L318.7 284.5L320.7 284.5L320.7 279.9L322 279.9L322 275.9L324.4 275.9L324.4 278L326.4 278L326.4 283.4L328.8 283.4L328.8 276.8L329.8 276.8L329.8 272.8L331.8 272.8L331.8 276.8L334.2 276.8L334.2 274.8L336.6 274.8L336.6 278.5L339 278.5L339 282.1L342 282.1L342 282.9L343 282.9L343 284.4L344 284.4L344 278.9L345 278.9L345 279.6L347.8 279.6L347.8 279.8L350.6 279.8L350.6 278.8L352.4 278.8L352.4 279.7L353.9 279.7L353.9 279.5L355.7 279.5L355.7 279.2L357.9 279.2L357.9 279.4L360.7 279.4L360.7 279.2L362.9 279.2L362.9 279.4L363.9 279.4L363.9 279.2L366.7 279.2L366.7 278.9L367.7 278.9L367.7 279L369.5 279L369.5 279.7L371 279.7L371 279.5L372.2 279.5L372.2 279.8L374 279.8L374 279.5L376.2 279.5L376.2 279.5L378.4 279.5L378.4 279.3L381.2 279.3L381.2 279.5L382.4 279.5L382.4 279.5L383.9 279.5L383.9 279.5L385.4 279.5L385.4 279.5L388.2 279.5L388.2 279.2L389.2 279.2L389.2 279.6L392 279.6L392 279.5L393 279.5L393 278.9L394.2 278.9L394.2 279.3L396.4 279.3L396.4 279.1L398.6 279.1L398.6 279.6L399.6 279.6L399.6 278.9L400.8 278.9L400.8 279.1L402 279.1L402 279.2L403.6 279.2L403.6 272.9L404.9 272.9L404.9 284.7L406.9 284.7L406.9 278.9L409.3 278.9L409.3 278.2L412.9 278.2L412.9 281L414.5 281L414.5 278.4L415.8 278.4L415.8 283.3L417.8 283.3L417.8 280.5L421.4 280.5L421.4 269.5L425 269.5L425 274.9L427.4 274.9L427.4 276.2L429.4 276.2L429.4 277.5L430.4 277.5L430.4 273.9L434 273.9L434 273.5L435.3 273.5L435.3 278.5L437.3 278.5L437.3 273.9L438.9 273.9L438.9 283.3L439.9 283.3L439.9 280.7L442.9 280.7L442.9 279.8L444.5 279.8L444.5 277.2L445.5 277.2L445.5 279.1L449.1 279.1L449.1 274.3L450.1 274.3L450.1 281.3L451.1 281.3L451.1 272.4L454.1 272.4L454.1 279.9L457.1 279.9L457.1 283.4L460.7 283.4L460.7 279.3L462.7 279.3L462.7 279.6L465.1 279.6L465.1 274.6L466.4 274.6L466.4 273.2L468.8 273.2L468.8 278.5L470.8 278.5L470.8 271.2L474.4 271.2L474.4 281.4L478 281.4L478 279.2L481.6 279.2L481.6 281.5L482.6 281.5L482.6 280.6L486.2 280.6L486.2 281.5L487.5 281.5L487.5 281.3L489.9 281.3L489.9 283.1L492.3 283.1L492.3 280.5L495.9 280.5L495.9 278.5L499.5 278.5L499.5 284.2L502.5 284.2L502.5 284.8L504.5 284.8L504.5 275.5L507.5 275.5L507.5 273.9L510.5 273.9L510.5 283.2L511.5 283.2L511.5 276.9L515.1 276.9L515.1 272.9L517.1 272.9L517.1 281.7L518.7 281.7L518.7 275.4L521.1 275.4L521.1 280.1L524.7 280.1L524.7 278.2L528.3 278.2L528.3 275.2L529.3 275.2L529.3 279.2L530.6 279.2L530.6 281.3L531.6 281.3L531.6 280.8L533.6 280.8L533.6 281.1L536.6 281.1L536.6 275.2L538.2 275.2L538.2 280.6L540.2 280.6L540.2 283.6L541.2 283.6L541.2 276L543.2 276L543.2 275.8L544.8 275.8L544.8 280.8L546.8 280.8L546.8 274.7L549.8 274.7L549.8 277.3L553.4 277.3L553.4 280.8L555.8 280.8L555.8 274.8L557.4 274.8L557.4 279.6L560.4 279.6L560.4 280.2L562.4 280.2L562.4 275.1L565.4 275.1L565.4 278.7L567 278.7L567 281L570 281L570 281.7L573 281.7L573 283.5L574.3 283.5L574.3 279.6L577.9 279.6L577.9 281.8L579.5 281.8L579.5 283.7L581.5 283.7L581.5 278L582.5 278L582.5 281.2L584.1 281.2L584.1 281L587.7 281L587.7 282.8L588.7 282.8L588.7 283.1L590 283.1L590 275.3L593 275.3L593 274.2L594.6 274.2L594.6 280.4L598.2 280.4L598.2 286.2L601.2 286.2L601.2 279.4L604.8 279.4L604.8 279.3L606.1 279.3L606.1 277.8L609.7 277.8L609.7 275.1L611 275.1L611 278.3L612 278.3L612 276.2L614.4 276.2L614.4 276L616.4 276L616.4 277.3L618.4 277.3L618.4 279L622 279L622 282.8L623.6 282.8L623.6 282.2L625.2 282.2L625.2 273L626.8 273L626.8 279.9L628.4 279.9L628.4 279.3L630.4 279.3L630.4 279.3L632.4 279.3L632.4 279.3L636 279.3L636 277.7L638 277.7L638 277.2L639.3 277.2L639.3 273.9L640.6 273.9L640.6 277.8L644.2 277.8L644.2 274.6L646.6 274.6L646.6 278.5L647.6 278.5L647.6 277.5L648.6 277.5L648.6 282.5L651 282.5L651 277.7L652.6 277.7L652.6 276L654.6 276L654.6 281.8L657.6 281.8L657.6 274.9L659.2 274.9L659.2 277.8L661.6 277.8L661.6 276.6L663.6 276.6L663.6 277.9L666 277.9L666 282.1L667 282.1L667 278.6L670 278.6L670 284.3L671.3 284.3L671.3 274L673.7 274L673.7 281.1L675.7 281.1L675.7 285.1L679.3 285.1L679.3 282.5L681.7 282.5L681.7 284.3L684.1 284.3L684.1 281.4L685.4 281.4L685.4 273.7L687 273.7L687 281.4L689 281.4L689 280.2L690.6 280.2L690.6 282.3L692.2 282.3L692.2 282.9L693.8 282.9L693.8 286.1L695.8 286.1L695.8 275.5L697.1 275.5L697.1 278.6L698.7 278.6L698.7 278.6L700.3 278.6L700.3 281L703.9 281L703.9 270.7L707.5 270.7L707.5 274.5L709.9 274.5L709.9 278.6L712.3 278.6L712.3 278.2L713.3 278.2L713.3 280.1L716.9 280.1L716.9 277.9L719.3 277.9L719.3 284.5L720.3 284.5L720.3 279.3L723.9 279.3L723.9 279.9L726.3 279.9L726.3 277.5L729.9 277.5L729.9 281.6L732.9 281.6L732.9 282.2L736.5 282.2L736.5 284.8L738.1 284.8L738.1 282L739.1 282L739.1 282L742.1 282L742.1 271.5L744.1 271.5L744.1 277.6L747.1 277.6L747.1 277.8L750.7 277.8L750.7 277.7L754.3 277.7L754.3 272.9L756.7 272.9L756.7 270L758 270L758 275.8L760.4 275.8L760.4 277.4L762.4 277.4L762.4 284.2L764.8 284.2L764.8 285L768.4 285L768.4 280.5L770 280.5L770 280.8L770.6 280.8L770.6 291.3L772.6 291.3L772.6 292.2L775.7 292.2L775.7 291.5L778.6 291.5L778.6 291.9L778.6 291.9L778.6 279.2L780.2 279.2L780.2 284.2L783.8 284.2L783.8 280.4L786.2 280.4L786.2 283.3L789.8 283.3L789.8 279.7L791.4 279.7L791.4 281.5L793 281.5L793 281.7L796 281.7L796 276L798 276L798 278.7L799.3 278.7L799.3 276L801.3 276L801.3 268.1L803.3 268.1L803.3 277.7L804.3 277.7L804.3 272.2L805.6 272.2L805.6 283.2L808.6 283.2L808.6 274.6L812.2 274.6L812.2 274.8L813.5 274.8L813.5 278.6L816.5 278.6L816.5 281.7L818.1 281.7L818.1 277.5L819.4 277.5L819.4 278.8L820.7 278.8L820.7 272.2L822 272.2L822 277.8L824.4 277.8L824.4 278.4L825.7 278.4L825.7 278.5L828.7 278.5L828.7 280L829.7 280L829.7 279.2L830.7 279.2L830.7 281.6L834.3 281.6L834.3 285.2L837.9 285.2L837.9 278.9L840.9 278.9L840.9 280.1L842.5 280.1L842.5 277.6L846.1 277.6L846.1 277.1L849.1 277.1L849.1 277.7L850.4 277.7L850.4 275.9L853.4 275.9L853.4 280.6L855 280.6L855 271.9L857.2 271.9L857.2 306.1L861.1 306.1L861.1 306L863.8 306L863.8 306.1L867.2 306.1L867.2 306.4L871.1 306.4L871.1 305.7L875 305.7L875 306.2L877.6 306.2L877.6 305.9L879.4 305.9L879.4 305.9L881.7 305.9L881.7 305.4L884.9 305.4L884.9 305.6L887.1 305.6L887.1 306.2L889.6 306.2L889.6 306.4L892.5 306.4L892.5 306.4L894.9 306.4L894.9 306.1L898.4 306.1L898.4 305.5L901.5 305.5L901.5 305.8L904.1 305.8L904.1 306.3L906.6 306.3L906.6 305.7L910.1 305.7L910.1 306.6L913.9 306.6L913.9 306L916.5 306L916.5 306L918.4 306L918.4 306.3L920 306.3L920 306.3L923 306.3L923 305.9L925.7 305.9L925.7 306.5L928.3 306.5L928.3 306.5L930.4 306.5L930.4 306.3L933.1 306.3L933.1 305.6L937 305.6L937 306.3L939.1 306.3L939.1 306L941 306L941 305.6L943.9 305.6L943.9 306.2L947.6 306.2L947.6 305.8L950.6 305.8L950.6 305.6L952.4 305.6L952.4 305.9L954.9 305.9L954.9 306L955.9 306L955.9 281.9L957.9 281.9L957.9 285L960.3 285L960.3 278.9L961.9 278.9L961.9 280.5L964.9 280.5L964.9 286.7L967.9 286.7L967.9 284L971.5 284L971.5 283.6L974.5 283.6L974.5 279.2L978.1 279.2L978.1 280.7L979.4 280.7L979.4 276.1L980.4 276.1L980.4 281L982.4 281L982.4 276.9L984.2 276.9L984.2 296L986.4 296L986.4 274.3L989.4 274.3L989.4 272.3L990.7 272.3L990.7 277.1L991.7 277.1L991.7 283.2L993 283.2L993 279.7L994.6 279.7L994.6 282.5L996.6 282.5L996.6 280.8L999 280.8L999 277.4L1002.6 277.4L1002.6 279.1L1003.6 279.1L1003.6 278.1L1007.2 278.1L1007.2 279.7L1010.8 279.7L1010.8 276.1L1014.4 276.1L1014.4 280.3L1017.4 280.3L1017.4 280.6L1019 280.6L1019 284.1L1022 284.1L1022 283.5L1023 283.5L1023 281.5L1024.6 281.5L1024.6 281.8L1025.9 281.8L1025.9 281.4L1027.5 281.4L1027.5 277.2L1029.1 277.2L1029.1 278.9L1031.1 278.9L1031.1 281.1L1034.1 281.1L1034.1 274.9L1037.1 274.9L1037.1 280L1039.5 280L1039.5 275.5L1040.8 275.5L1040.8 281.8L1043.2 281.8L1043.2 283.9L1044.5 283.9L1044.5 275.7L1047.5 275.7L1047.5 285.9L1049.5 285.9L1049.5 280.6L1050.5 280.6L1050.5 277.3L1051.8 277.3L1051.8 283.5L1053.8 283.5L1053.8 280.1L1056.2 280.1L1056.2 279.7L1058.6 279.7L1058.6 282.7L1060.6 282.7L1060.6 282.3L1064.2 282.3L1064.2 283.8L1066.2 283.8L1066.2 281.9L1069.8 281.9L1069.8 283.1L1070.8 283.1L1070.8 279.3L1073.8 279.3L1073.8 282.2L1075.1 282.2L1075.1 281.7L1077.5 281.7L1077.5 278L1079.5 278L1079.5 275.3L1081.1 275.3L1081.1 281.9L1084.1 281.9L1084.1 280.3L1086.5 280.3L1086.5 282.6L1087.8 282.6L1087.8 271.6L1090.8 271.6L1090.8 278.5L1092.1 278.5L1092.1 279.5L1093.1 279.5L1093.1 282.6L1094.7 282.6L1094.7 277.8L1096.7 277.8L1096.7 280L1099.7 280L1099.7 282.9L1103.3 282.9L1103.3 281.2L1104.9 281.2L1104.9 283.5L1106.2 283.5L1106.2 274.9L1109.2 274.9L1109.2 287L1111.6 287L1111.6 282.2L1113.6 282.2L1113.6 286.9L1116.6 286.9L1116.6 276.1L1120.2 276.1L1120.2 285.1L1122.6 285.1L1122.6 277.1L1123.6 277.1L1123.6 283.5L1124.6 283.5L1124.6 282.3L1127 282.3L1127 275.7L1129.4 275.7L1129.4 281.5L1131.4 281.5L1131.4 286.1L1133.8 286.1L1133.8 282.2L1135.4 282.2L1135.4 282.8L1137.8 282.8L1137.8 279.7L1139.8 279.7L1139.8 282.1L1142.2 282.1L1142.2 276.3L1144.6 276.3L1144.6 280.1L1146.6 280.1L1146.6 275.7L1147.9 275.7L1147.9 280L1151.5 280L1151.5 281.6L1153.9 281.6L1153.9 285.2L1156.3 285.2L1156.3 285.5L1157.9 285.5L1157.9 283.6L1160.9 283.6L1160.9 276.3L1162.2 276.3L1162.2 275.3L1164.6 275.3L1164.6 274.1L1166.6 274.1L1166.6 277.5L1169.6 277.5L1169.6 272.9L1170.9 272.9L1170.9 281.9L1173.9 281.9L1173.9 282.8L1176.3 282.8L1176.3 278.8L1178.3 278.8L1178.3 273.4L1180.7 273.4L1180.7 278.7L1182.3 278.7L1182.3 278.1L1183.6 278.1L1183.6 272L1187.2 272L1187.2 271.7L1188.2 271.7L1188.2 284.7L1191.2 284.7L1191.2 281L1194.2 281L1194.2 282.3L1196.2 282.3L1196.2 281.5L1197.5 281.5L1197.5 278.3L1201.1 278.3L1201.1 285.4L1203.1 285.4L1203.1 288.3L1204.7 288.3L1204.7 288.1L1206.3 288.1L1206.3 289.4L1207.6 289.4L1207.6 275.6L1209.2 275.6L1209.2 283.4L1212.2 283.4L1212.2 280.4L1214.2 280.4L1214.2 281.1L1215.5 281.1L1215.5 282.5L1216.8 282.5L1216.8 281.2L1218.1 281.2L1218.1 283.5L1219.7 283.5L1219.7 279.2L1221.3 279.2L1221.3 285.2L1222.3 285.2L1222.3 283.8L1225.9 283.8L1225.9 282.9L1228.9 282.9L1228.9 282L1231.9 282L1231.9 274.1L1234.3 274.1L1234.3 283.3L1235.3 283.3L1235.3 284.4L1236.3 284.4L1236.3 279.2L1237.6 279.2L1237.6 280.4L1238.9 280.4L1238.9 281.5L1242.5 281.5L1242.5 277.6L1244.1 277.6L1244.1 284.6L1245.4 284.6L1245.4 283.9L1248.4 283.9L1248.4 285.7L1249.4 285.7L1249.4 287.6L1252.4 287.6L1252.4 284.7L1254.8 284.7L1254.8 282.2L1256.8 282.2L1256.8 284L1260.4 284L1260.4 278.7L1262.8 278.7L1262.8 279.8L1265.2 279.8L1265.2 279.4L1268.2 279.4L1268.2 273.7L1269.5 273.7L1269.5 282.8L1273.1 282.8L1273.1 275.9L1276.1 275.9L1276.1 281.8L1277.4 281.8L1277.4 279.1L1279.8 279.1L1279.8 274.6L1281.4 274.6L1281.4 284.5L1283.8 284.5L1283.8 284.6L1285.4 284.6L1285.4 285.6L1289 285.6L1289 279.9L1290.3 279.9L1290.3 285.5L1291.6 285.5L1291.6 284.7L1294 284.7L1294 288.7L1295.6 288.7L1295.6 289.9L1297.2 289.9L1297.2 277.6L1298.2 277.6L1298.2 288.9L1299.8 288.9L1299.8 284.1L1302.2 284.1L1302.2 280.3L1303.5 280.3L1303.5 283.5L1304.8 283.5L1304.8 285.3L1308.4 285.3L1308.4 280.1L1310.8 280.1L1310.8 280L1312.8 280L1312.8 283.2L1313.8 283.2L1313.8 282.9L1314.8 282.9L1314.8 278.1L1318.4 278.1L1318.4 286.7L1320.4 286.7L1320.4 283.5L1321.7 283.5L1321.7 287.4L1323.7 287.4L1323.7 281.7L1325.3 281.7L1325.3 284.2L1326.6 284.2L1326.6 277.3L1327.9 277.3L1327.9 281L1329.9 281L1329.9 273.8L1332.9 273.8L1332.9 283L1335.3 283L1335.3 285.2L1336.9 285.2L1336.9 277.7L1337.9 277.7L1337.9 285.8L1338.9 285.8L1338.9 288.7L1342.5 288.7L1342.5 284.7L1344.5 284.7L1344.5 283.4L1346.9 283.4L1346.9 281.5L1349.9 281.5L1349.9 287.9L1351.9 287.9L1351.9 282.2L1353.5 282.2L1353.5 281.4L1356.5 281.4L1356.5 280.5L1357.8 280.5L1357.8 279.5L1359.8 279.5L1359.8 281.8L1362.8 281.8L1362.8 279L1364.8 279L1364.8 284.5L1365.8 284.5L1365.8 283L1369.4 283L1369.4 282.5L1373 282.5L1373 275L1375 275L1375 279.2L1376.6 279.2L1376.6 279.3L1378.6 279.3L1378.6 279.7L1379.6 279.7L1379.6 274.5L1383.2 274.5L1383.2 280.1L1385.2 280.1L1385.2 287.5L1386.8 287.5L1386.8 284.5L1389.8 284.5L1389.8 279.7L1392.8 279.7L1392.8 287.4L1393.8 287.4L1393.8 289.3L1394.8 289.3L1394.8 283.9L1396.4 283.9L1396.4 284.1L1400 284.1L1400 283.9L1402.4 283.9L1402.4 286.8L1403.4 286.8L1403.4 286.1L1405.8 286.1L1405.8 281.6L1409.4 281.6L1409.4 283.7L1411.8 283.7L1411.8 281L1413.8 281L1413.8 281L1415.8 281L1415.8 282.5L1418.2 282.5L1418.2 287L1421.2 287L1421.2 286.1L1423.6 286.1L1423.6 284.6L1425.2 284.6L1425.2 282.7L1428.2 282.7L1428.2 278.4L1430.6 278.4L1430.6 286.3L1433 286.3L1433 284.3L1435 284.3L1435 289.1L1436.3 289.1L1436.3 284.5L1437.9 284.5L1437.9 288.1L1439.9 288.1L1439.9 285L1443.5 285L1443.5 285.4L1444.5 285.4L1444.5 282.6L1445.5 282.6L1445.5 284L1449.1 284L1449.1 281.9L1451.5 281.9L1451.5 280L1453.9 280L1453.9 279.7L1455.2 279.7L1455.2 281.8L1457.6 281.8L1457.6 277.5L1460.6 277.5L1460.6 279.9L1462.6 279.9L1462.6 282.7L1465.6 282.7L1465.6 281.9L1466.6 281.9L1466.6 279.5L1468.2 279.5L1468.2 281.6L1469.5 281.6L1469.5 282.6L1471.1 282.6L1471.1 279.6L1472.4 279.6L1472.4 275.9L1473.7 275.9L1473.7 280.7L1475.3 280.7L1475.3 283L1477.3 283L1477.3 282.7L1478.9 282.7L1478.9 289.3L1481.3 289.3L1481.3 283.6L1482.6 283.6L1482.6 287.7L1484.6 287.7L1484.6 285.7L1487.6 285.7L1487.6 286.8L1489.2 286.8L1489.2 284.6L1491.6 284.6L1491.6 283.9L1493.2 283.9L1493.2 283.2L1496.2 283.2L1496.2 278.7L1498.6 278.7L1498.6 280.7L1502.2 280.7L1502.2 284.5L1505.2 284.5L1505.2 282.4L1507.2 282.4L1507.2 283.1L1508.2 283.1L1508.2 278.9L1510.6 278.9L1510.6 283.4L1513 283.4L1513 283L1516 283L1516 282.7L1519 282.7L1519 283.9L1522.6 283.9L1522.6 287.2L1523.6 287.2L1523.6 282.8L1524.6 282.8L1524.6 282.3L1528.2 282.3L1528.2 287.1L1530.6 287.1L1530.6 287.5L1532.6 287.5L1532.6 285.5L1535 285.5L1535 286.7L1536 286.7L1536 280.3L1537.3 280.3L1537.3 281L1538.6 281L1538.6 277.7L1540.6 277.7L1540.6 278.5L1543 278.5L1543 279.9L1545.4 279.9L1545.4 281.9L1547.4 281.9L1547.4 283.8L1548.4 283.8L1548.4 279.9L1549.4 279.9L1549.4 274.3L1552.4 274.3L1552.4 280.3L1553.4 280.3L1553.4 286.2L1557 286.2L1557 274.8L1558.3 274.8L1558.3 281.9L1561.3 281.9L1561.3 278.7L1564.9 278.7L1564.9 282.2L1565.9 282.2L1565.9 284.2L1569.5 284.2L1569.5 280.7L1572.5 280.7L1572.5 283.5L1574.9 283.5L1574.9 286.2L1577.9 286.2L1577.9 289.1L1578.9 289.1L1578.9 289.5L1581.3 289.5L1581.3 279.7L1583.7 279.7L1583.7 281.9L1587.3 281.9L1587.3 283L1588.3 283L1588.3 282.4L1589.3 282.4L1589.3 274.2L1592.9 274.2L1592.9 286.1L1594.5 286.1L1594.5 285.6L1595.8 285.6L1595.8 275.8L1596.8 275.8L1596.8 284.2L1598.4 284.2L1598.4 284L1599.4 284L1599.4 275.1L1603 275.1L1603 281.6L1606 281.6L1606 281.5L1608.4 281.5L1608.4 281.1L1609.4 281.1L1609.4 278.1L1611.8 278.1L1611.8 282.3L1613.4 282.3L1613.4 285.9L1615.4 285.9L1615.4 285.1L1617.4 285.1L1617.4 282.2L1620.4 282.2L1620.4 280.9L1622 280.9L1622 288.2L1623.3 288.2L1623.3 286.2L1626.3 286.2L1626.3 289.4L1627.9 289.4L1627.9 281.7L1629.2 281.7L1629.2 278.8L1631.6 278.8L1631.6 282.8L1635.2 282.8L1635.2 280.6L1636.5 280.6L1636.5 283L1637.8 283L1637.8 272.6L1640.2 272.6L1640.2 282L1641.2 282L1641.2 274.6L1643.2 274.6L1643.2 281.8L1644.2 281.8L1644.2 281.6L1646.6 281.6L1646.6 283.4L1649.6 283.4L1649.6 282.7L1650.9 282.7L1650.9 283L1654.5 283L1654.5 278.9L1656.1 278.9L1656.1 280.2L1658.1 280.2L1658.1 281.1L1659.1 281.1L1659.1 281.5L1661.2 281.5L1661.2 303.6L1664.7 303.6L1664.7 304.4L1666.6 304.4L1666.6 303.8L1668.2 303.8L1668.2 303.9L1671.7 303.9L1671.7 304.3L1674.1 304.3L1674.1 304L1677.6 304L1677.6 304.4L1679.4 304.4L1679.4 303.7L1683 303.7L1683 424.8L1680.9 424.8L1680.9 424.5L1677.7 424.5L1677.7 424.9L1674.6 424.9L1674.6 424.2L1672.7 424.2L1672.7 424.2L1671.1 424.2L1671.1 425.1L1667.1 425.1L1667.1 424.5L1663.7 424.5L1663.7 425.2L1661.2 425.2L1661.2 452.9L1658.4 452.9L1658.4 450.2L1656.8 450.2L1656.8 445.5L1654.4 445.5L1654.4 446.6L1653.4 446.6L1653.4 444.8L1652.4 444.8L1652.4 446.2L1650 446.2L1650 440.9L1649 440.9L1649 440.3L1647.7 440.3L1647.7 442L1644.1 442L1644.1 448L1642.1 448L1642.1 444L1641.1 444L1641.1 443.4L1637.5 443.4L1637.5 445.5L1636.5 445.5L1636.5 440.6L1634.5 440.6L1634.5 444.2L1631.5 444.2L1631.5 443.6L1630.2 443.6L1630.2 443.5L1628.6 443.5L1628.6 442.4L1626.2 442.4L1626.2 452.8L1622.6 452.8L1622.6 444.5L1620.6 444.5L1620.6 448.1L1619.6 448.1L1619.6 451.1L1616.6 451.1L1616.6 447.9L1615.6 447.9L1615.6 449.9L1614 449.9L1614 449.7L1610.4 449.7L1610.4 447.7L1608.4 447.7L1608.4 444.6L1604.8 444.6L1604.8 443.8L1603.5 443.8L1603.5 449.1L1599.9 449.1L1599.9 439.6L1597.5 439.6L1597.5 443.7L1596.5 443.7L1596.5 446.6L1594.9 446.6L1594.9 445.9L1593.9 445.9L1593.9 445.8L1592.3 445.8L1592.3 446.9L1591.3 446.9L1591.3 448.4L1589.7 448.4L1589.7 444.2L1588.7 444.2L1588.7 445L1587.1 445L1587.1 443.2L1584.7 443.2L1584.7 447.1L1582.7 447.1L1582.7 445.1L1579.1 445.1L1579.1 447L1578.1 447L1578.1 446.6L1575.1 446.6L1575.1 452.3L1573.5 452.3L1573.5 450.6L1571.5 450.6L1571.5 446.2L1569.5 446.2L1569.5 456.6L1568.2 456.6L1568.2 457L1565.2 457L1565.2 445.9L1561.6 445.9L1561.6 445.4L1558.6 445.4L1558.6 442.5L1557.3 442.5L1557.3 440.8L1556.3 440.8L1556.3 440.6L1555 440.6L1555 444.3L1553 444.3L1553 446.7L1552 446.7L1552 445.6L1549 445.6L1549 443.5L1547.4 443.5L1547.4 445.4L1546.1 445.4L1546.1 446L1545.1 446L1545.1 444.2L1542.7 444.2L1542.7 446.1L1540.7 446.1L1540.7 442.8L1538.3 442.8L1538.3 449.4L1534.7 449.4L1534.7 444.9L1531.1 444.9L1531.1 444.9L1529.5 444.9L1529.5 445.4L1528.2 445.4L1528.2 450.3L1525.2 450.3L1525.2 449.2L1522.2 449.2L1522.2 445.5L1520.9 445.5L1520.9 443.6L1518.9 443.6L1518.9 451L1516.9 451L1516.9 445.7L1515.3 445.7L1515.3 446.9L1514 446.9L1514 445.6L1511 445.6L1511 448.9L1508.6 448.9L1508.6 446.6L1507.6 446.6L1507.6 448.3L1506 448.3L1506 446.6L1503.8 446.6L1503.8 445.2L1501.6 445.2L1501.6 439.1L1500.1 439.1L1500.1 439.2L1498.3 439.2L1498.3 438L1496.5 438L1496.5 435.9L1493.7 435.9L1493.7 436.1L1489.9 436.1L1489.9 435.9L1486.5 435.9L1486.5 435.5L1484.6 435.5L1484.6 438.5L1482.6 438.5L1482.6 432.6L1481.5 432.6L1481.5 441.2L1481.4 441.2L1481.4 439.5L1479.2 439.5L1479.2 441L1476.4 441L1476.4 443.2L1475.2 443.2L1475.2 440.2L1473.7 440.2L1473.7 442.8L1472.2 442.8L1472.2 446.3L1471 446.3L1471 442.8L1469.8 442.8L1469.8 443.9L1468.6 443.9L1468.6 444.8L1465.8 444.8L1465.8 444.2L1464 444.2L1464 446.4L1462.2 446.4L1462.2 445.2L1461 445.2L1461 453.8L1458.5 453.8L1458.5 448.1L1454.9 448.1L1454.9 448.7L1452.9 448.7L1452.9 441.5L1449.9 441.5L1449.9 443L1446.9 443L1446.9 441.6L1445.6 441.6L1445.6 444.9L1444 444.9L1444 449.6L1442.4 449.6L1442.4 443L1439.4 443L1439.4 443.9L1437.4 443.9L1437.4 444.5L1435.4 444.5L1435.4 444.1L1431.8 444.1L1431.8 452.1L1430.5 452.1L1430.5 450.9L1428.9 450.9L1428.9 447.2L1427.3 447.2L1427.3 448.5L1424.3 448.5L1424.3 443.4L1422.7 443.4L1422.7 447.4L1421.1 447.4L1421.1 446.3L1419.5 446.3L1419.5 446.6L1418.5 446.6L1418.5 445.7L1416.9 445.7L1416.9 444.8L1415.3 444.8L1415.3 447.9L1411.7 447.9L1411.7 446.2L1408.7 446.2L1408.7 448.5L1405.1 448.5L1405.1 442.9L1402.1 442.9L1402.1 445.5L1399.7 445.5L1399.7 449.2L1398.1 449.2L1398.1 447.2L1394.5 447.2L1394.5 443.6L1393.2 443.6L1393.2 448.3L1391.9 448.3L1391.9 450.8L1390.9 450.8L1390.9 446.4L1389.3 446.4L1389.3 449L1387.3 449L1387.3 450.2L1384.3 450.2L1384.3 449.3L1383 449.3L1383 453L1379.4 453L1379.4 445.5L1377.4 445.5L1377.4 445.2L1376.4 445.2L1376.4 449.4L1372.8 449.4L1372.8 444.1L1371.8 444.1L1371.8 446.1L1369.8 446.1L1369.8 445.8L1366.2 445.8L1366.2 442.1L1364.6 442.1L1364.6 447.6L1361 447.6L1361 447.3L1358 447.3L1358 446.7L1355 446.7L1355 446.2L1354 446.2L1354 444.6L1351.6 444.6L1351.6 443.1L1350.6 443.1L1350.6 444.2L1349 444.2L1349 444.6L1347.4 444.6L1347.4 444.4L1346.1 444.4L1346.1 445.6L1344.5 445.6L1344.5 445.7L1342.5 445.7L1342.5 446.8L1339.5 446.8L1339.5 447.7L1337.5 447.7L1337.5 456.5L1335.1 456.5L1335.1 456.5L1331.5 456.5L1331.5 450.4L1330.5 450.4L1330.5 450.7L1327.5 450.7L1327.5 444.3L1325.5 444.3L1325.5 451L1322.5 451L1322.5 447.8L1320.1 447.8L1320.1 444.9L1318.5 444.9L1318.5 442.9L1316.1 442.9L1316.1 449.2L1314.8 449.2L1314.8 448.5L1311.2 448.5L1311.2 445L1307.6 445L1307.6 443.1L1304 443.1L1304 444.4L1303 444.4L1303 446.2L1299.4 446.2L1299.4 456.5L1296.4 456.5L1296.4 447.9L1295.4 447.9L1295.4 454L1294.1 454L1294.1 456.6L1292.8 456.6L1292.8 451.4L1290.4 451.4L1290.4 450.7L1289.4 450.7L1289.4 456L1285.8 456L1285.8 447.3L1284.5 447.3L1284.5 452.8L1283.5 452.8L1283.5 449.4L1281.5 449.4L1281.5 447.8L1279.5 447.8L1279.5 449.2L1275.9 449.2L1275.9 447.3L1274.6 447.3L1274.6 446.4L1272.6 446.4L1272.6 451.9L1270.6 451.9L1270.6 450.8L1267.6 450.8L1267.6 449L1266.3 449L1266.3 450.4L1265.3 450.4L1265.3 446.8L1262.3 446.8L1262.3 442.4L1260.3 442.4L1260.3 445.4L1259.3 445.4L1259.3 441.1L1258.3 441.1L1258.3 443.5L1255.3 443.5L1255.3 445.6L1251.7 445.6L1251.7 446.3L1249.7 446.3L1249.7 454.6L1246.1 454.6L1246.1 446.6L1243.7 446.6L1243.7 453.4L1242.7 453.4L1242.7 451.9L1239.7 451.9L1239.7 454.8L1238.4 454.8L1238.4 447.1L1234.8 447.1L1234.8 445.3L1233.5 445.3L1233.5 448.3L1231.5 448.3L1231.5 448.4L1228.5 448.4L1228.5 448.1L1227.2 448.1L1227.2 449.8L1223.6 449.8L1223.6 454.3L1220.6 454.3L1220.6 449.6L1217.6 449.6L1217.6 448.2L1216.6 448.2L1216.6 446.3L1213.6 446.3L1213.6 453.8L1211.2 453.8L1211.2 452.6L1207.6 452.6L1207.6 447.6L1204 447.6L1204 449.7L1203 449.7L1203 446.4L1201 446.4L1201 447.2L1197.4 447.2L1197.4 455.5L1195.4 455.5L1195.4 447.7L1192.4 447.7L1192.4 447.8L1191.4 447.8L1191.4 449.6L1187.8 449.6L1187.8 445.4L1186.8 445.4L1186.8 449.7L1184.4 449.7L1184.4 445.3L1183.1 445.3L1183.1 448.5L1180.1 448.5L1180.1 446.8L1178.5 446.8L1178.5 454.7L1174.9 454.7L1174.9 455.1L1173.9 455.1L1173.9 445.3L1171.5 445.3L1171.5 442.4L1169.9 442.4L1169.9 452L1168.3 452L1168.3 446.6L1166.3 446.6L1166.3 444.7L1163.3 444.7L1163.3 442.7L1162.3 442.7L1162.3 444.9L1161.3 444.9L1161.3 446.5L1158.9 446.5L1158.9 448.4L1156.9 448.4L1156.9 449.6L1155.9 449.6L1155.9 447.8L1154.6 447.8L1154.6 448.5L1153 448.5L1153 448L1151.4 448L1151.4 445.7L1148.4 445.7L1148.4 452.5L1146.4 452.5L1146.4 450L1144.8 450L1144.8 447.8L1142.4 447.8L1142.4 448.9L1139.4 448.9L1139.4 450.6L1135.8 450.6L1135.8 447.6L1134.2 447.6L1134.2 449L1130.6 449L1130.6 450.1L1129.3 450.1L1129.3 448L1128 448L1128 446.1L1126 446.1L1126 453.5L1124 453.5L1124 449.9L1122 449.9L1122 448.8L1120.4 448.8L1120.4 455.8L1117.4 455.8L1117.4 444.2L1114.4 444.2L1114.4 448.1L1113.4 448.1L1113.4 455.5L1109.8 455.5L1109.8 458L1107.4 458L1107.4 447.4L1103.8 447.4L1103.8 451L1102.8 451L1102.8 458.5L1101.5 458.5L1101.5 458L1099.5 458L1099.5 450.6L1096.5 450.6L1096.5 451.7L1093.5 451.7L1093.5 454.4L1089.9 454.4L1089.9 434L1089 434L1089 452.6L1088.6 452.6L1088.6 452.1L1085.6 452.1L1085.6 451.6L1081.7 451.6L1081.7 451.5L1078.1 451.5L1078.1 451.8L1075.2 451.8L1075.2 452.3L1071.7 452.3L1071.7 452.1L1069 452.1L1069 451.9L1067.2 451.9L1067.2 452.6L1064.2 452.6L1064.2 449.9L1061.1 449.9L1061.1 450.3L1058.6 450.3L1058.6 428L1057.6 428L1057.6 460L1047.7 460L1047.7 442.5L1046.2 442.5L1046.2 427L1045.2 427L1045.2 449.9L1043.8 449.9L1043.8 450L1042.5 450L1042.5 447.5L1039.5 447.5L1039.5 453.5L1037.5 453.5L1037.5 454.5L1035.9 454.5L1035.9 453.2L1032.3 453.2L1032.3 450L1029.3 450L1029.3 446.5L1027.3 446.5L1027.3 447.7L1024.9 447.7L1024.9 448.2L1023.6 448.2L1023.6 448.8L1022 448.8L1022 450.5L1020.4 450.5L1020.4 444.5L1019.4 444.5L1019.4 450.3L1018.4 450.3L1018.4 450.9L1016.8 450.9L1016.8 451.2L1013.2 451.2L1013.2 459.4L1011.9 459.4L1011.9 452.8L1010.9 452.8L1010.9 451.3L1007.9 451.3L1007.9 450.7L1004.9 450.7L1004.9 453.5L1003.9 453.5L1003.9 451.9L1001.5 451.9L1001.5 448.4L999.9 448.4L999.9 448L997.5 448L997.5 450.3L993.9 450.3L993.9 446.7L992.6 446.7L992.6 449.3L991.3 449.3L991.3 448.4L988.9 448.4L988.9 445.1L987.6 445.1L987.6 449L985.6 449L985.6 431.5L984.4 431.5L984.4 444.3L983.6 444.3L983.6 447.2L980 447.2L980 443.8L976.4 443.8L976.4 447.3L975.4 447.3L975.4 453.9L971.8 453.9L971.8 449.1L970.8 449.1L970.8 447.3L969.8 447.3L969.8 446.7L968.5 446.7L968.5 458.1L966.1 458.1L966.1 447.3L964.5 447.3L964.5 450.9L960.9 450.9L960.9 448.8L959.9 448.8L959.9 453.2L956.9 453.2L956.9 450L955.6 450L955.6 421.8L954.3 421.8L954.3 422.2L951.4 422.2L951.4 422.8L948.8 422.8L948.8 422.2L944.9 422.2L944.9 421.9L941.8 421.9L941.8 422.3L939.4 422.3L939.4 421.8L937.7 421.8L937.7 422.7L934.5 422.7L934.5 422.5L932.4 422.5L932.4 422.7L930.6 422.7L930.6 422.5L927.6 422.5L927.6 421.9L926 421.9L926 422.1L922.5 422.1L922.5 422.6L920.2 422.6L920.2 422.7L917 422.7L917 422.1L914.7 422.1L914.7 422.1L911.8 422.1L911.8 421.9L908.6 421.9L908.6 422.7L906.9 422.7L906.9 422.2L904.3 422.2L904.3 422.7L900.7 422.7L900.7 422L899 422L899 422.7L895.1 422.7L895.1 422.4L893 422.4L893 422.2L890.5 422.2L890.5 421.6L887.6 421.6L887.6 422.7L885.2 422.7L885.2 422.4L882.5 422.4L882.5 422.2L879.5 422.2L879.5 421.9L876.3 421.9L876.3 421.8L873 421.8L873 421.9L870.5 421.9L870.5 422.5L868.7 422.5L868.7 422.4L865.2 422.4L865.2 422.2L862.5 422.2L862.5 422.5L858.5 422.5L858.5 430L856.5 430L856.5 450.5L855.9 450.5L855.9 450.6L854.3 450.6L854.3 453.1L850.7 453.1L850.7 450.1L849.4 450.1L849.4 451.2L845.8 451.2L845.8 445.9L844.8 445.9L844.8 453.6L843.5 453.6L843.5 450.1L841.9 450.1L841.9 445.4L839.9 445.4L839.9 445.2L838.9 445.2L838.9 446.3L835.3 446.3L835.3 448.5L833.7 448.5L833.7 449.2L831.7 449.2L831.7 449.9L829.3 449.9L829.3 450.1L825.7 450.1L825.7 457.3L822.7 457.3L822.7 448.7L820.7 448.7L820.7 457.1L819.4 457.1L819.4 447.2L817.4 447.2L817.4 454.3L814.4 454.3L814.4 455.3L811.4 455.3L811.4 446.3L807.8 446.3L807.8 458.5L806.8 458.5L806.8 449.2L805.2 449.2L805.2 451.4L802.2 451.4L802.2 452.1L800.9 452.1L800.9 450.1L799.3 450.1L799.3 448.6L796.3 448.6L796.3 452.4L794.7 452.4L794.7 448.5L793.7 448.5L793.7 445.1L792.1 445.1L792.1 444.7L789.7 444.7L789.7 453.3L788.1 453.3L788.1 446.3L784.5 446.3L784.5 449.5L783.2 449.5L783.2 458.2L781.6 458.2L781.6 452.9L779.2 452.9L779.2 436.8L777.4 436.8L777.4 435.9L774.6 435.9L774.6 436.2L771.3 436.2L771.3 453L770.3 453L770.3 451.4L768.3 451.4L768.3 451L765.9 451L765.9 453.4L764.3 453.4L764.3 453.3L762.7 453.3L762.7 452L761.4 452L761.4 449.3L760.1 449.3L760.1 453L757.7 453L757.7 453.7L754.1 453.7L754.1 450.6L751.7 450.6L751.7 451.1L750.4 451.1L750.4 449.1L749.4 449.1L749.4 448.6L746.4 448.6L746.4 451.7L745.4 451.7L745.4 450.8L743.8 450.8L743.8 445.2L740.2 445.2L740.2 444.4L738.6 444.4L738.6 450.9L737.3 450.9L737.3 452.1L734.9 452.1L734.9 450.1L731.9 450.1L731.9 451.2L729.9 451.2L729.9 453.1L726.3 453.1L726.3 450.8L722.7 450.8L722.7 446.3L721.7 446.3L721.7 444.8L719.3 444.8L719.3 449.2L717.7 449.2L717.7 452L715.7 452L715.7 446L714.7 446L714.7 450.5L713.1 450.5L713.1 451.5L712.1 451.5L712.1 452.1L709.1 452.1L709.1 445.8L706.7 445.8L706.7 452.5L704.7 452.5L704.7 447.7L702.3 447.7L702.3 443.4L699.3 443.4L699.3 455.1L696.9 455.1L696.9 446.7L694.9 446.7L694.9 451.3L691.3 451.3L691.3 451.1L689.3 451.1L689.3 445.6L686.3 445.6L686.3 456.9L682.7 456.9L682.7 453.5L681.1 453.5L681.1 450.6L679.5 450.6L679.5 449.5L678.5 449.5L678.5 456.7L677.2 456.7L677.2 452L674.8 452L674.8 450.7L671.2 450.7L671.2 452.2L669.2 452.2L669.2 452.6L667.9 452.6L667.9 454.1L666.3 454.1L666.3 459L664.7 459L664.7 460.8L661.7 460.8L661.7 452.4L660.4 452.4L660.4 448.6L658 448.6L658 452.2L655 452.2L655 451.2L654 451.2L654 447L652.7 447L652.7 447.7L650.7 447.7L650.7 450.7L648.3 450.7L648.3 451.4L646.7 451.4L646.7 449.5L643.1 449.5L643.1 450L641.1 450L641.1 451.8L640.1 451.8L640.1 454L637.7 454L637.7 451.1L635.3 451.1L635.3 453.6L633.3 453.6L633.3 450.6L631.3 450.6L631.3 451.4L627.7 451.4L627.7 447.8L626.1 447.8L626.1 453.6L623.7 453.6L623.7 451.9L620.7 451.9L620.7 450.5L619.4 450.5L619.4 446.1L615.8 446.1L615.8 448.7L614.2 448.7L614.2 452.9L612.9 452.9L612.9 450L610.9 450L610.9 449.3L609.3 449.3L609.3 455.2L607.7 455.2L607.7 442.4L604.7 442.4L604.7 447.4L601.7 447.4L601.7 454.1L598.7 454.1L598.7 451L597.4 451L597.4 447.3L593.8 447.3L593.8 453.7L591.4 453.7L591.4 450.3L588.4 450.3L588.4 451.5L587.1 451.5L587.1 451.5L585.8 451.5L585.8 450.6L582.2 450.6L582.2 452L580.9 452L580.9 451L577.9 451L577.9 452.7L574.9 452.7L574.9 454.7L573.6 454.7L573.6 455.8L571.2 455.8L571.2 451L569.6 451L569.6 449.7L567.6 449.7L567.6 456L565.2 456L565.2 452.7L564.2 452.7L564.2 445.9L562.9 445.9L562.9 445.8L560.5 445.8L560.5 448.8L557.5 448.8L557.5 455.1L554.5 455.1L554.5 454.3L552.1 454.3L552.1 456L549.1 456L549.1 452.5L547.8 452.5L547.8 446.7L546.2 446.7L546.2 453.5L545.2 453.5L545.2 450.9L543.9 450.9L543.9 446.8L542.9 446.8L542.9 450.5L540.9 450.5L540.9 449L537.3 449L537.3 448.9L533.7 448.9L533.7 451.1L530.7 451.1L530.7 446.1L528.3 446.1L528.3 449L527.3 449L527.3 447.5L525.3 447.5L525.3 454.2L523.7 454.2L523.7 449.6L520.7 449.6L520.7 454.1L519.4 454.1L519.4 449L517 449L517 446.2L516 446.2L516 447.3L514.4 447.3L514.4 451.8L510.8 451.8L510.8 455.9L507.8 455.9L507.8 444.6L506.2 444.6L506.2 450.9L502.6 450.9L502.6 449.6L499.6 449.6L499.6 452L497.2 452L497.2 454.5L493.6 454.5L493.6 454L492 454L492 449.5L489 449.5L489 454.4L487 454.4L487 451.2L485.7 451.2L485.7 454L482.7 454L482.7 452.6L479.1 452.6L479.1 449.4L477.5 449.4L477.5 449.5L476.5 449.5L476.5 462.1L474.9 462.1L474.9 454.2L471.3 454.2L471.3 451.2L467.7 451.2L467.7 449.3L464.7 449.3L464.7 447L463.1 447L463.1 446.2L460.7 446.2L460.7 449.4L458.7 449.4L458.7 451.1L457.4 451.1L457.4 446.8L455 446.8L455 448L451.4 448L451.4 451.3L450.4 451.3L450.4 448.8L446.8 448.8L446.8 450.1L445.8 450.1L445.8 446.8L442.8 446.8L442.8 450.2L441.8 450.2L441.8 451.4L439.4 451.4L439.4 449.5L438.1 449.5L438.1 456L436.1 456L436.1 449.8L435.1 449.8L435.1 451.4L431.5 451.4L431.5 456.8L429.5 456.8L429.5 449.4L428.2 449.4L428.2 455L425.2 455L425.2 450L423.2 450L423.2 447.9L420.2 447.9L420.2 443.4L418.9 443.4L418.9 449L415.9 449L415.9 452.7L414.9 452.7L414.9 451.4L413.9 451.4L413.9 453.2L411.9 453.2L411.9 446.6L409.9 446.6L409.9 452.6L407.9 452.6L407.9 449.1L404.3 449.1L404.3 448.2L401.3 448.2L401.3 454.4L399.3 454.4L399.3 454.9L396.8 454.9L396.8 455.2L394.4 455.2L394.4 455.3L391.5 455.3L391.5 455.2L388.4 455.2L388.4 454.7L386.2 454.7L386.2 454.7L382.4 454.7L382.4 454.7L379.9 454.7L379.9 455.5L377.1 455.5L377.1 454.6L373.5 454.6L373.5 455.6L370.3 455.6L370.3 455.4L366.9 455.4L366.9 455L363 455L363 455.1L359.5 455.1L359.5 455.1L356.6 455.1L356.6 455L353.4 455L353.4 455.4L350.5 455.4L350.5 454.9L347.6 454.9L347.6 454.9L345.6 454.9L345.6 455.3L343 455.3L343 451.8L341.9 451.8L341.9 454.9L340.9 454.9L340.9 453.4L337.3 453.4L337.3 452.1L336 452.1L336 452.4L333.6 452.4L333.6 450.8L330 450.8L330 452.7L328.4 452.7L328.4 451.9L326.8 451.9L326.8 455.5L325.5 455.5L325.5 447.8L321.9 447.8L321.9 446.5L320.6 446.5L320.6 451.6L318.2 451.6L318.2 451.3L317.2 451.3L317.2 448.8L316.2 448.8L316.2 454.2L313.2 454.2L313.2 452.1L311.6 452.1L311.6 459.2L309.6 459.2L309.6 452.6L307.2 452.6L307.2 452.3L305.2 452.3L305.2 448.7L302.8 448.7L302.8 452.1L301.5 452.1L301.5 450.1L300.2 450.1L300.2 452.8L297.2 452.8L297.2 453.9L295.6 453.9L295.6 454.6L292.6 454.6L292.6 451.7L290.6 451.7L290.6 454.7L288.2 454.7L288.2 452.3L284.6 452.3L284.6 447.1L281 447.1L281 451.5L278.6 451.5L278.6 450.9L276.6 450.9L276.6 451.3L273.6 451.3L273.6 450.6L272.3 450.6L272.3 448.5L270.3 448.5L270.3 452.2L269.3 452.2L269.3 455.5L267.7 455.5L267.7 449.1L264.7 449.1L264.7 449.1L262.3 449.1L262.3 450.6L259.3 450.6L259.3 449.7L257.7 449.7L257.7 449.2L254.1 449.2L254.1 454.5L253.1 454.5L253.1 451.5L252.1 451.5L252.1 457L251.1 457L251.1 450.7L248.1 450.7L248.1 452.1L247.1 452.1L247.1 453.4L244.1 453.4L244.1 455.1L241.1 455.1L241.1 449.2L238.7 449.2L238.7 452.4L237.7 452.4L237.7 451L236.1 451L236.1 451.4L234.1 451.4L234.1 451.2L231.1 451.2L231.1 449.9L229.5 449.9L229.5 449.1L227.9 449.1L227.9 447.8L226.6 447.8L226.6 447.1L225.3 447.1L225.3 451.4L224 451.4L224 451.6L220.4 451.6L220.4 447.4L217.4 447.4L217.4 447.7L213.8 447.7L213.8 427.4L211.8 427.4L211.8 426.6L209.7 426.6L209.7 427.5L207.2 427.5L207.2 426.4L203.9 426.4L203.9 427L200.3 427L200.3 427.1L197.7 427.1L197.7 426.5L195.6 426.5Z"/>
<path fill="#bfbf00" d="M343 440L373.2 440L373.2 732.8L370.2 732.8L370.2 724.5L366 724.5L366 731L362.9 731L362.9 721.5L359.6 721.5L359.6 727.5L356.3 727.5L356.3 726.5L352.7 726.5L352.7 722.5L349 722.5L349 721L345.4 721L345.4 717.8L343 717.8ZM376.8 440L401.1 440L401.1 737.2L397.2 737.2L397.2 727.5L393.3 727.5L393.3 735L390.4 735L390.4 726.5L387 726.5L387 723L384.1 723L384.1 727L380.2 727L380.2 724L376.8 724ZM1047.7 440L1057.8 440L1057.8 717L1054.8 717L1054.8 712.5L1051.9 712.5L1051.9 717.6L1048.9 717.6L1048.9 708L1047.7 708ZM1064 440L1068.5 440L1068.5 709L1067.2 709L1067.2 715L1064 715ZM1070.5 440L1074.9 440L1074.9 718L1073.6 718L1073.6 725L1070.5 725ZM1076.6 440L1079.8 440L1079.8 718L1076.6 718ZM1081.9 440L1084.8 440L1084.8 719.6L1081.9 719.6ZM1086 440L1089 440L1089 717.2L1086 717.2Z"/>
<path stroke="#d8d858" stroke-width="1" fill="none" d="M347.2 610V717M349.8 610V721M1080.8 568V716"/>
<path fill="#ff0000" d="M195.6 342.1L213.8 342.1L213.8 337.6L216 337.6L216 338.2L217.8 338.2L217.8 338L219 338L219 338.2L220.8 338.2L220.8 338L223.6 338L223.6 338L225.4 338L225.4 338.9L226.9 338.9L226.9 338.6L229.7 338.6L229.7 338.8L231.5 338.8L231.5 338.8L232.7 338.8L232.7 338.5L235.5 338.5L235.5 338.4L237.7 338.4L237.7 338.1L239.9 338.1L239.9 338L240.9 338L240.9 338L242.7 338L242.7 338.8L243.7 338.8L243.7 338.4L244.7 338.4L244.7 338.7L247.5 338.7L247.5 338.4L250.3 338.4L250.3 337.9L251.3 337.9L251.3 338.4L253.1 338.4L253.1 337.9L254.3 337.9L254.3 338L255.8 338L255.8 338.2L258.6 338.2L258.6 338.5L260.8 338.5L260.8 338.3L261.8 338.3L261.8 338.3L264 338.3L264 338.4L266.8 338.4L266.8 338.4L269.6 338.4L269.6 338.3L271.8 338.3L271.8 338.6L274.6 338.6L274.6 338.9L275.8 338.9L275.8 338.2L276.8 338.2L276.8 338.4L278 338.4L278 338.4L279.8 338.4L279.8 338.1L282.6 338.1L282.6 338L284.4 338L284.4 338.9L287.2 338.9L287.2 338.2L289 338.2L289 338.1L290 338.1L290 338.2L292.8 338.2L292.8 338.4L294 338.4L294 338L295.2 338L295.2 338.1L297 338.1L297 338.5L298.5 338.5L298.5 338.5L300 338.5L300 338.9L301 338.9L301 338.2L302.2 338.2L302.2 338.7L305 338.7L305 338.2L306 338.2L306 338.6L308.2 338.6L308.2 338.1L310 338.1L310 338L311.8 338L311.8 338.4L313.6 338.4L313.6 338.3L315.8 338.3L315.8 338.2L318 338.2L318 338.4L319 338.4L319 338.2L321.2 338.2L321.2 338.8L323 338.8L323 338.3L324.8 338.3L324.8 338.8L327.6 338.8L327.6 338.2L328.8 338.2L328.8 338.5L330.3 338.5L330.3 338.2L331.8 338.2L331.8 338.6L334 338.6L334 338.8L335.2 338.8L335.2 338.5L336.4 338.5L336.4 338.6L337.9 338.6L337.9 337.9L339.1 337.9L339.1 338.5L340.1 338.5L340.1 338.2L342.9 338.2L342.9 338.5L344 338.5L344 337.5L346.2 337.5L346.2 337.2L347.7 337.2L347.7 336.6L349.9 336.6L349.9 337.4L352.1 337.4L352.1 336.7L354.9 336.7L354.9 337.2L356.4 337.2L356.4 337.5L358.2 337.5L358.2 337.3L359.7 337.3L359.7 337.3L361.9 337.3L361.9 337L364.7 337L364.7 337.1L366.5 337.1L366.5 336.9L368.7 336.9L368.7 336.7L371.5 336.7L371.5 337L373.7 337L373.7 336.8L375.2 336.8L375.2 336.6L378 336.6L378 336.6L379 336.6L379 337L380.5 337L380.5 337.1L381.5 337.1L381.5 337.2L382.7 337.2L382.7 337.2L383.7 337.2L383.7 337.5L386.5 337.5L386.5 336.6L388 336.6L388 337.1L390.2 337.1L390.2 336.7L393 336.7L393 336.7L394.2 336.7L394.2 336.9L396 336.9L396 337.1L397.8 337.1L397.8 337.2L399 337.2L399 337.3L400.5 337.3L400.5 336.9L402 336.9L402 338.8L403.2 338.8L403.2 338.5L404.7 338.5L404.7 338.8L406.2 338.8L406.2 338.1L407.4 338.1L407.4 338.1L408.4 338.1L408.4 338.8L409.4 338.8L409.4 338.6L412.2 338.6L412.2 338.2L415 338.2L415 338.7L416.2 338.7L416.2 338.3L417.2 338.3L417.2 338.1L418.4 338.1L418.4 338.3L419.4 338.3L419.4 338L420.6 338L420.6 338.5L421.6 338.5L421.6 338.2L422.8 338.2L422.8 338.9L424 338.9L424 338.1L425.8 338.1L425.8 338.4L428 338.4L428 338.3L429.8 338.3L429.8 338.4L431.3 338.4L431.3 338.6L434.1 338.6L434.1 338.2L436.9 338.2L436.9 338.1L437.9 338.1L437.9 338.1L439.7 338.1L439.7 338.6L440.7 338.6L440.7 338.2L442.9 338.2L442.9 338L444.1 338L444.1 337.9L446.9 337.9L446.9 338.6L449.7 338.6L449.7 338.9L451.9 338.9L451.9 338.3L453.1 338.3L453.1 338.2L454.6 338.2L454.6 338.2L457.4 338.2L457.4 338.8L458.9 338.8L458.9 338.1L460.4 338.1L460.4 338.8L462.6 338.8L462.6 338.7L464.8 338.7L464.8 338.2L466 338.2L466 338.8L467.5 338.8L467.5 338.8L468.5 338.8L468.5 338.7L469.7 338.7L469.7 338.6L470.7 338.6L470.7 338.8L471.9 338.8L471.9 337.9L473.7 337.9L473.7 338.5L475.2 338.5L475.2 338.6L476.2 338.6L476.2 337.9L478 337.9L478 338.1L480.2 338.1L480.2 338.1L482 338.1L482 338.5L484.2 338.5L484.2 338.2L486.4 338.2L486.4 338.5L487.4 338.5L487.4 338.6L488.6 338.6L488.6 338.1L490.8 338.1L490.8 338.2L492.3 338.2L492.3 338.7L495.1 338.7L495.1 338.3L496.9 338.3L496.9 338L498.1 338L498.1 337.9L499.3 337.9L499.3 338.5L502.1 338.5L502.1 338.9L503.1 338.9L503.1 338.8L504.9 338.8L504.9 338.5L507.1 338.5L507.1 338.2L508.3 338.2L508.3 338.4L510.1 338.4L510.1 338.4L511.1 338.4L511.1 338.1L512.1 338.1L512.1 338L514.9 338L514.9 338.3L517.1 338.3L517.1 338.1L519.3 338.1L519.3 338.6L521.5 338.6L521.5 338.5L522.7 338.5L522.7 338.7L523.9 338.7L523.9 338.6L526.7 338.6L526.7 338.4L528.9 338.4L528.9 338.3L531.7 338.3L531.7 338.3L532.9 338.3L532.9 338.4L533.9 338.4L533.9 338.5L535.4 338.5L535.4 338.2L536.9 338.2L536.9 338.1L539.7 338.1L539.7 338.9L541.9 338.9L541.9 338.3L543.4 338.3L543.4 338.1L545.2 338.1L545.2 338.7L547.4 338.7L547.4 338L548.6 338L548.6 338.8L550.8 338.8L550.8 338.4L551.8 338.4L551.8 338.3L552.8 338.3L552.8 338.4L554.3 338.4L554.3 338.6L557.1 338.6L557.1 338.1L558.6 338.1L558.6 338L559.8 338L559.8 338.3L561.3 338.3L561.3 338L562.5 338L562.5 338.2L564.3 338.2L564.3 338.2L566.5 338.2L566.5 338.1L568 338.1L568 338.6L569 338.6L569 338.1L571.2 338.1L571.2 338.4L573.4 338.4L573.4 338L574.6 338L574.6 338L576.1 338L576.1 338.1L577.6 338.1L577.6 338.4L579.4 338.4L579.4 338.7L580.9 338.7L580.9 337.9L582.1 337.9L582.1 338.6L584.3 338.6L584.3 338.4L585.8 338.4L585.8 338.5L588.6 338.5L588.6 338.6L590.1 338.6L590.1 338.9L591.6 338.9L591.6 338.2L593.4 338.2L593.4 338.5L594.9 338.5L594.9 338L596.1 338L596.1 338.4L598.3 338.4L598.3 338.8L599.8 338.8L599.8 338.1L601.3 338.1L601.3 338.6L603.5 338.6L603.5 338.6L604.5 338.6L604.5 338.4L605.7 338.4L605.7 338.7L607.9 338.7L607.9 338.5L609.1 338.5L609.1 338.8L610.9 338.8L610.9 338.8L612.7 338.8L612.7 338.8L613.7 338.8L613.7 338.5L614.9 338.5L614.9 338L617.1 338L617.1 338L618.9 338L618.9 338.4L620.1 338.4L620.1 338.7L621.6 338.7L621.6 338L622.8 338L622.8 338.6L624 338.6L624 338.1L625 338.1L625 338.1L627.8 338.1L627.8 338.8L628.8 338.8L628.8 338.6L630.3 338.6L630.3 338.9L631.8 338.9L631.8 338.5L632.8 338.5L632.8 338.4L635 338.4L635 338.8L636.8 338.8L636.8 338.1L638.3 338.1L638.3 338.6L639.8 338.6L639.8 337.9L641.3 337.9L641.3 338.8L642.5 338.8L642.5 338L644 338L644 338.3L645 338.3L645 338.7L647.2 338.7L647.2 338.5L648.4 338.5L648.4 338.1L650.6 338.1L650.6 338.4L652.8 338.4L652.8 338.7L653.8 338.7L653.8 338.8L655.6 338.8L655.6 338.8L658.4 338.8L658.4 338.3L659.6 338.3L659.6 338.5L660.8 338.5L660.8 338.8L662.6 338.8L662.6 338L664.1 338L664.1 338.7L665.9 338.7L665.9 338.5L667.1 338.5L667.1 338.3L669.9 338.3L669.9 338.9L671.7 338.9L671.7 338.4L673.5 338.4L673.5 338.6L675.3 338.6L675.3 338.3L678.1 338.3L678.1 338.8L680.3 338.8L680.3 338.7L682.5 338.7L682.5 338.8L684.7 338.8L684.7 338.8L685.9 338.8L685.9 338.1L687.7 338.1L687.7 338.8L689.2 338.8L689.2 338.9L690.4 338.9L690.4 338.8L692.6 338.8L692.6 338.8L694.4 338.8L694.4 338.3L696.6 338.3L696.6 338.1L698.8 338.1L698.8 338.3L700.6 338.3L700.6 338.7L703.4 338.7L703.4 337.9L704.6 337.9L704.6 338.8L707.4 338.8L707.4 338.4L708.6 338.4L708.6 338.3L711.4 338.3L711.4 338.3L714.2 338.3L714.2 338.1L716.4 338.1L716.4 338.6L719.2 338.6L719.2 338.1L720.7 338.1L720.7 338.2L722.5 338.2L722.5 338.7L724.7 338.7L724.7 338.3L726.9 338.3L726.9 338.6L728.4 338.6L728.4 338.4L730.6 338.4L730.6 338.1L732.4 338.1L732.4 338.4L733.6 338.4L733.6 338.5L735.4 338.5L735.4 338.1L736.4 338.1L736.4 338.8L739.2 338.8L739.2 338.3L740.4 338.3L740.4 338.1L742.6 338.1L742.6 338L744.8 338L744.8 338.6L747 338.6L747 338.6L748 338.6L748 338.2L749.5 338.2L749.5 338.7L751.3 338.7L751.3 338.8L752.5 338.8L752.5 338.6L754.3 338.6L754.3 338.5L755.3 338.5L755.3 338L758.1 338L758.1 338.2L759.9 338.2L759.9 338.6L760.9 338.6L760.9 338.2L762.1 338.2L762.1 338.7L763.3 338.7L763.3 338.7L765.5 338.7L765.5 338.7L766.5 338.7L766.5 338.6L768.3 338.6L768.3 338.1L769.3 338.1L769.3 338.7L771 338.7L771 343.5L779.3 343.5L779.3 338.8L780.5 338.8L780.5 338.4L781.5 338.4L781.5 338.3L782.5 338.3L782.5 338.4L783.5 338.4L783.5 338.3L785.3 338.3L785.3 338.7L786.8 338.7L786.8 338.8L787.8 338.8L787.8 338.8L790.6 338.8L790.6 338.9L792.1 338.9L792.1 338.2L793.6 338.2L793.6 338.6L795.1 338.6L795.1 338.9L797.9 338.9L797.9 338.2L799.1 338.2L799.1 338.4L801.9 338.4L801.9 337.9L803.4 337.9L803.4 338.8L805.2 338.8L805.2 338.4L807.4 338.4L807.4 338.3L809.2 338.3L809.2 338.3L812 338.3L812 338.6L813.8 338.6L813.8 338.8L815.6 338.8L815.6 338.9L817.8 338.9L817.8 338.1L820 338.1L820 338.6L821.8 338.6L821.8 338.5L822.8 338.5L822.8 338.1L823.8 338.1L823.8 338.5L825.3 338.5L825.3 338.8L827.5 338.8L827.5 338.6L829 338.6L829 338.4L831.2 338.4L831.2 338.6L832.4 338.6L832.4 337.9L834.2 337.9L834.2 338.5L836 338.5L836 338.7L838.2 338.7L838.2 338.8L839.7 338.8L839.7 338.2L841.9 338.2L841.9 338L843.7 338L843.7 338.5L845.9 338.5L845.9 338.6L847.7 338.6L847.7 338.8L849.2 338.8L849.2 338.8L850.7 338.8L850.7 338.2L852.9 338.2L852.9 338.3L853.9 338.3L853.9 338.4L856 338.4L856 341.2L956 341.2L956 338.1L957.8 338.1L957.8 338.4L959.3 338.4L959.3 338.4L960.8 338.4L960.8 338.1L961.8 338.1L961.8 338.3L962.8 338.3L962.8 338.2L964.3 338.2L964.3 338.7L966.1 338.7L966.1 338.3L967.3 338.3L967.3 338.8L968.3 338.8L968.3 338.9L970.5 338.9L970.5 338.6L972 338.6L972 338L974.2 338L974.2 338.8L977 338.8L977 338.7L978 338.7L978 338.7L979.8 338.7L979.8 338.3L981.3 338.3L981.3 338.5L982.3 338.5L982.3 338.1L983.5 338.1L983.5 338L984 338L984 340.2L986.5 340.2L986.5 338.9L988 338.9L988 338.6L989.5 338.6L989.5 338.1L991.3 338.1L991.3 338.8L993.5 338.8L993.5 338.1L996.3 338.1L996.3 338.8L997.8 338.8L997.8 338.9L999 338.9L999 338.8L1000.2 338.8L1000.2 338.6L1002.4 338.6L1002.4 338.4L1003.4 338.4L1003.4 338.7L1004.9 338.7L1004.9 338.5L1006.7 338.5L1006.7 338.3L1007.9 338.3L1007.9 338.4L1009.7 338.4L1009.7 338.9L1010.7 338.9L1010.7 338.2L1012.5 338.2L1012.5 338.7L1013.5 338.7L1013.5 338L1015.7 338L1015.7 338.5L1017.5 338.5L1017.5 338.1L1018.5 338.1L1018.5 338.1L1021.3 338.1L1021.3 338.6L1023.5 338.6L1023.5 338.1L1026.3 338.1L1026.3 338.7L1028.1 338.7L1028.1 338.7L1029.6 338.7L1029.6 338.8L1031.8 338.8L1031.8 338.6L1034 338.6L1034 338.3L1035.5 338.3L1035.5 338.6L1037 338.6L1037 337.9L1039.2 337.9L1039.2 342.6L1088.8 342.6L1088.8 338.8L1089.8 338.8L1089.8 338.9L1092.6 338.9L1092.6 338.7L1095.4 338.7L1095.4 338.4L1096.6 338.4L1096.6 338.1L1098.4 338.1L1098.4 338.5L1100.2 338.5L1100.2 338.5L1102.4 338.5L1102.4 338.9L1103.9 338.9L1103.9 338.9L1105.1 338.9L1105.1 338.8L1106.1 338.8L1106.1 338.2L1107.6 338.2L1107.6 338.5L1109.4 338.5L1109.4 338.2L1110.9 338.2L1110.9 338.5L1111.9 338.5L1111.9 338.9L1113.4 338.9L1113.4 338.9L1114.4 338.9L1114.4 338.3L1116.2 338.3L1116.2 338.7L1117.7 338.7L1117.7 338.9L1119.2 338.9L1119.2 338.5L1120.2 338.5L1120.2 338.9L1121.2 338.9L1121.2 338.5L1122.7 338.5L1122.7 338.3L1125.5 338.3L1125.5 338.9L1127.7 338.9L1127.7 338.6L1128.7 338.6L1128.7 338.8L1130.5 338.8L1130.5 338.8L1131.7 338.8L1131.7 338.4L1132.7 338.4L1132.7 338.3L1133.7 338.3L1133.7 338.2L1134.7 338.2L1134.7 338.8L1136.5 338.8L1136.5 338.8L1138.3 338.8L1138.3 338.7L1139.3 338.7L1139.3 338.3L1140.3 338.3L1140.3 338.2L1143.1 338.2L1143.1 338.9L1145.9 338.9L1145.9 338.1L1146.9 338.1L1146.9 338.4L1148.4 338.4L1148.4 338.6L1150.2 338.6L1150.2 338.3L1152 338.3L1152 339L1153.5 339L1153.5 339L1155.7 339L1155.7 339L1156.9 339L1156.9 338.8L1159.1 338.8L1159.1 338.6L1160.3 338.6L1160.3 338.6L1161.3 338.6L1161.3 338.2L1163.1 338.2L1163.1 338.2L1164.9 338.2L1164.9 338.5L1165.9 338.5L1165.9 338.2L1168.7 338.2L1168.7 338.2L1170.5 338.2L1170.5 338.2L1173.3 338.2L1173.3 338.4L1175.1 338.4L1175.1 338.4L1176.3 338.4L1176.3 338.7L1177.8 338.7L1177.8 338.4L1179.3 338.4L1179.3 339.1L1180.8 339.1L1180.8 338.4L1182.3 338.4L1182.3 338.5L1183.5 338.5L1183.5 338.9L1184.7 338.9L1184.7 338.2L1185.9 338.2L1185.9 339L1187.1 339L1187.1 338.9L1188.3 338.9L1188.3 338.8L1190.5 338.8L1190.5 339L1192.3 339L1192.3 338.4L1194.1 338.4L1194.1 338.7L1195.3 338.7L1195.3 338.6L1198.1 338.6L1198.1 338.6L1199.6 338.6L1199.6 338.2L1200.8 338.2L1200.8 338.4L1202.3 338.4L1202.3 338.5L1203.8 338.5L1203.8 338.4L1206.6 338.4L1206.6 338.7L1208.8 338.7L1208.8 338.7L1211 338.7L1211 338.8L1212 338.8L1212 338.8L1214.8 338.8L1214.8 338.9L1217.6 338.9L1217.6 338.7L1220.4 338.7L1220.4 339L1222.6 339L1222.6 339L1224.4 339L1224.4 338.9L1225.9 338.9L1225.9 338.9L1227.1 338.9L1227.1 338.9L1228.9 338.9L1228.9 338.2L1231.7 338.2L1231.7 338.8L1232.7 338.8L1232.7 338.9L1233.9 338.9L1233.9 338.6L1235.7 338.6L1235.7 338.6L1237.9 338.6L1237.9 339.1L1239.4 339.1L1239.4 338.4L1241.2 338.4L1241.2 339.1L1244 339.1L1244 339.1L1246.2 339.1L1246.2 338.9L1249 338.9L1249 338.9L1250.2 338.9L1250.2 338.6L1251.2 338.6L1251.2 338.7L1253 338.7L1253 339.1L1255.2 339.1L1255.2 338.3L1258 338.3L1258 338.9L1259.2 338.9L1259.2 338.4L1260.4 338.4L1260.4 338.8L1261.6 338.8L1261.6 338.9L1263.4 338.9L1263.4 339L1264.4 339L1264.4 339.1L1265.4 339.1L1265.4 338.5L1266.4 338.5L1266.4 338.9L1267.4 338.9L1267.4 338.5L1269.2 338.5L1269.2 339L1272 339L1272 339L1273.8 339L1273.8 339.1L1274.8 339.1L1274.8 338.9L1276.6 338.9L1276.6 339.1L1278.8 339.1L1278.8 338.8L1280 338.8L1280 339.1L1282.8 339.1L1282.8 339L1283.8 339L1283.8 338.3L1286 338.3L1286 338.5L1288.2 338.5L1288.2 338.7L1291 338.7L1291 338.4L1293.8 338.4L1293.8 339.1L1295 339.1L1295 339.2L1296 339.2L1296 338.4L1297.2 338.4L1297.2 339L1299 339L1299 338.9L1301.2 338.9L1301.2 338.5L1302.7 338.5L1302.7 339.1L1304.5 339.1L1304.5 339.1L1307.3 339.1L1307.3 338.7L1308.8 338.7L1308.8 338.3L1310.3 338.3L1310.3 339L1311.5 339L1311.5 338.4L1313.3 338.4L1313.3 339L1314.8 339L1314.8 338.8L1315.8 338.8L1315.8 338.8L1316.8 338.8L1316.8 338.7L1317.8 338.7L1317.8 338.5L1319 338.5L1319 339.1L1320.2 339.1L1320.2 338.6L1321.2 338.6L1321.2 338.5L1322.2 338.5L1322.2 338.5L1323.7 338.5L1323.7 339.2L1325.2 339.2L1325.2 338.6L1327 338.6L1327 338.8L1329.2 338.8L1329.2 338.4L1330.7 338.4L1330.7 338.8L1332.2 338.8L1332.2 338.3L1333.2 338.3L1333.2 338.5L1334.7 338.5L1334.7 338.8L1336.9 338.8L1336.9 338.4L1337.9 338.4L1337.9 338.7L1339.7 338.7L1339.7 339L1342.5 339L1342.5 339L1344 339L1344 339.1L1345.5 339.1L1345.5 338.8L1347.3 338.8L1347.3 338.6L1348.8 338.6L1348.8 338.9L1350.6 338.9L1350.6 338.8L1352.8 338.8L1352.8 338.5L1354 338.5L1354 338.6L1355.8 338.6L1355.8 338.2L1357 338.2L1357 339L1358.5 339L1358.5 339.2L1360.3 339.2L1360.3 339L1361.3 339L1361.3 338.6L1363.5 338.6L1363.5 338.5L1364.5 338.5L1364.5 338.8L1367.3 338.8L1367.3 338.4L1369.1 338.4L1369.1 338.8L1370.3 338.8L1370.3 338.4L1371.8 338.4L1371.8 339.2L1373.3 339.2L1373.3 338.4L1374.5 338.4L1374.5 339L1376.3 339L1376.3 338.6L1377.3 338.6L1377.3 338.5L1380.1 338.5L1380.1 338.4L1381.3 338.4L1381.3 339.1L1382.5 339.1L1382.5 338.7L1385.3 338.7L1385.3 338.6L1386.8 338.6L1386.8 338.7L1389 338.7L1389 338.3L1391.2 338.3L1391.2 338.7L1394 338.7L1394 338.8L1395.2 338.8L1395.2 338.6L1397.4 338.6L1397.4 338.5L1398.6 338.5L1398.6 338.8L1399.8 338.8L1399.8 338.9L1400.8 338.9L1400.8 338.4L1402.3 338.4L1402.3 338.5L1405.1 338.5L1405.1 338.8L1406.3 338.8L1406.3 339L1408.1 339L1408.1 338.5L1409.9 338.5L1409.9 338.6L1411.1 338.6L1411.1 338.7L1412.6 338.7L1412.6 338.5L1414.8 338.5L1414.8 339.1L1415.8 339.1L1415.8 339L1418 339L1418 338.9L1419.5 338.9L1419.5 338.3L1420.5 338.3L1420.5 338.6L1421.7 338.6L1421.7 338.8L1423.2 338.8L1423.2 338.7L1426 338.7L1426 338.8L1428.2 338.8L1428.2 339L1430.4 339L1430.4 339L1431.9 339L1431.9 339.1L1432.9 339.1L1432.9 338.8L1433.9 338.8L1433.9 338.8L1435.7 338.8L1435.7 338.4L1437.2 338.4L1437.2 338.6L1440 338.6L1440 339.2L1441.8 339.2L1441.8 338.9L1443.6 338.9L1443.6 338.7L1444.8 338.7L1444.8 339L1447 339L1447 338.4L1448.2 338.4L1448.2 338.7L1451 338.7L1451 338.7L1453.8 338.7L1453.8 339L1454.8 339L1454.8 338.6L1456.3 338.6L1456.3 338.6L1457.5 338.6L1457.5 338.6L1458.7 338.6L1458.7 338.5L1459.7 338.5L1459.7 339L1461.2 339L1461.2 338.9L1462.7 338.9L1462.7 339L1464.9 339L1464.9 339.2L1466.7 339.2L1466.7 338.7L1467.9 338.7L1467.9 338.8L1470.1 338.8L1470.1 338.9L1471.9 338.9L1471.9 339.1L1473.1 339.1L1473.1 339.3L1474.1 339.3L1474.1 338.9L1475.6 338.9L1475.6 339.1L1476.8 339.1L1476.8 338.6L1479 338.6L1479 339.2L1481.2 339.2L1481.2 339.3L1483.4 339.3L1483.4 338.4L1484.6 338.4L1484.6 338.7L1486.8 338.7L1486.8 338.5L1488.6 338.5L1488.6 338.4L1490.8 338.4L1490.8 338.6L1492 338.6L1492 338.7L1494.8 338.7L1494.8 338.7L1497.6 338.7L1497.6 338.7L1499.4 338.7L1499.4 338.7L1500.9 338.7L1500.9 338.4L1502.1 338.4L1502.1 339.3L1503.1 339.3L1503.1 338.4L1504.3 338.4L1504.3 338.4L1505.3 338.4L1505.3 339.1L1507.1 339.1L1507.1 338.5L1508.3 338.5L1508.3 338.8L1510.1 338.8L1510.1 338.6L1511.9 338.6L1511.9 338.9L1513.1 338.9L1513.1 338.8L1514.3 338.8L1514.3 339.4L1516.1 339.4L1516.1 339.3L1517.3 339.3L1517.3 339L1518.5 339L1518.5 339.1L1520 339.1L1520 339.2L1521.5 339.2L1521.5 339.3L1524.3 339.3L1524.3 338.5L1527.1 338.5L1527.1 338.8L1528.1 338.8L1528.1 338.8L1530.3 338.8L1530.3 338.5L1532.5 338.5L1532.5 339.2L1534.7 339.2L1534.7 338.8L1537.5 338.8L1537.5 339L1539.3 339L1539.3 338.4L1542.1 338.4L1542.1 338.8L1543.9 338.8L1543.9 339.2L1545.4 339.2L1545.4 339.3L1547.6 339.3L1547.6 339.3L1550.4 339.3L1550.4 339.3L1551.6 339.3L1551.6 339.2L1552.8 339.2L1552.8 339L1555 339L1555 338.9L1556.5 338.9L1556.5 339L1557.5 339L1557.5 338.7L1559.3 338.7L1559.3 338.5L1560.3 338.5L1560.3 339.1L1563.1 339.1L1563.1 339L1564.6 339L1564.6 339L1565.8 339L1565.8 338.8L1567.3 338.8L1567.3 339.2L1569.1 339.2L1569.1 339.1L1571.3 339.1L1571.3 338.7L1572.5 338.7L1572.5 339L1574.7 339L1574.7 339L1575.9 339L1575.9 338.4L1577.4 338.4L1577.4 338.8L1580.2 338.8L1580.2 339.2L1582.4 339.2L1582.4 339.3L1583.4 339.3L1583.4 339.2L1584.4 339.2L1584.4 338.7L1587.2 338.7L1587.2 338.7L1588.2 338.7L1588.2 338.6L1591 338.6L1591 338.8L1593.8 338.8L1593.8 338.5L1595 338.5L1595 338.5L1597.8 338.5L1597.8 339.4L1599 339.4L1599 339.4L1600.8 339.4L1600.8 338.9L1603.6 338.9L1603.6 339.2L1605.4 339.2L1605.4 338.7L1606.4 338.7L1606.4 339.2L1607.6 339.2L1607.6 338.9L1609.8 338.9L1609.8 338.6L1611.6 338.6L1611.6 339L1613.1 339L1613.1 338.6L1614.9 338.6L1614.9 339.1L1615.9 339.1L1615.9 338.8L1616.9 338.8L1616.9 339.3L1619.1 339.3L1619.1 339L1620.3 339L1620.3 339.4L1621.5 339.4L1621.5 339L1624.3 339L1624.3 338.6L1625.3 338.6L1625.3 339.3L1627.1 339.3L1627.1 338.8L1629.9 338.8L1629.9 339.4L1630.9 339.4L1630.9 339.3L1633.1 339.3L1633.1 338.9L1635.9 338.9L1635.9 338.6L1637.7 338.6L1637.7 338.9L1638.9 338.9L1638.9 338.9L1639.9 338.9L1639.9 338.9L1642.7 338.9L1642.7 339.1L1644.9 339.1L1644.9 339L1647.1 339L1647.1 339.4L1648.3 339.4L1648.3 338.8L1651.1 338.8L1651.1 339.4L1652.6 339.4L1652.6 339L1654.8 339L1654.8 339.4L1656.6 339.4L1656.6 339.3L1657.8 339.3L1657.8 339.1L1659.3 339.1L1659.3 338.7L1660.5 338.7L1660.5 338.8L1661.2 338.8L1661.2 341.2L1683 341.2L1683 386.9L1661.2 386.9L1661.2 390L1659.1 390L1659.1 389.6L1656.9 389.6L1656.9 390L1655.4 390L1655.4 389.4L1654.4 389.4L1654.4 389.4L1652.9 389.4L1652.9 389.9L1651.1 389.9L1651.1 389.4L1649.6 389.4L1649.6 389.8L1647.8 389.8L1647.8 390L1646.6 390L1646.6 389.5L1645.6 389.5L1645.6 389.9L1644.4 389.9L1644.4 389.3L1643.2 389.3L1643.2 389.4L1641 389.4L1641 390.1L1640 390.1L1640 390L1639 390L1639 389.4L1636.2 389.4L1636.2 389.3L1634.4 389.3L1634.4 389.3L1632.2 389.3L1632.2 389.7L1631.2 389.7L1631.2 389.8L1629.4 389.8L1629.4 389.9L1627.9 389.9L1627.9 389.8L1626.1 389.8L1626.1 389.5L1624.6 389.5L1624.6 389.4L1623.1 389.4L1623.1 389.3L1621.3 389.3L1621.3 389.4L1620.1 389.4L1620.1 389.9L1619.1 389.9L1619.1 389.8L1617.6 389.8L1617.6 389.7L1616.4 389.7L1616.4 389.5L1615.4 389.5L1615.4 390.1L1612.6 390.1L1612.6 389.3L1609.8 389.3L1609.8 389.6L1607.6 389.6L1607.6 389.5L1604.8 389.5L1604.8 389.6L1603.6 389.6L1603.6 389.5L1602.4 389.5L1602.4 390L1600.9 390L1600.9 389.7L1599.7 389.7L1599.7 389.3L1597.9 389.3L1597.9 389.3L1595.1 389.3L1595.1 389.7L1593.9 389.7L1593.9 389.5L1592.1 389.5L1592.1 389.5L1589.9 389.5L1589.9 390L1588.1 390L1588.1 389.4L1585.9 389.4L1585.9 389.9L1583.7 389.9L1583.7 389.2L1582.7 389.2L1582.7 389.3L1581.5 389.3L1581.5 389.8L1579.7 389.8L1579.7 389.5L1578.7 389.5L1578.7 389.9L1577.7 389.9L1577.7 390L1575.9 390L1575.9 389.7L1573.1 389.7L1573.1 389.6L1570.3 389.6L1570.3 389.7L1569.1 389.7L1569.1 389.9L1567.3 389.9L1567.3 390L1564.5 390L1564.5 389.9L1563.5 389.9L1563.5 389.8L1561.3 389.8L1561.3 389.8L1559.5 389.8L1559.5 389.8L1558.3 389.8L1558.3 389.7L1556.1 389.7L1556.1 389.2L1555.1 389.2L1555.1 389.4L1553.9 389.4L1553.9 390L1552.9 390L1552.9 390L1551.1 390L1551.1 389.3L1549.6 389.3L1549.6 390.2L1548.1 390.2L1548.1 390.1L1546.6 390.1L1546.6 389.9L1545.6 389.9L1545.6 390.1L1543.8 390.1L1543.8 389.8L1542.6 389.8L1542.6 389.6L1540.8 389.6L1540.8 390L1539.8 390L1539.8 389.3L1537 389.3L1537 389.2L1536 389.2L1536 389.3L1533.2 389.3L1533.2 389.4L1532.2 389.4L1532.2 389.7L1530.7 389.7L1530.7 390.2L1528.5 390.2L1528.5 389.6L1527 389.6L1527 389.6L1526 389.6L1526 389.6L1524.2 389.6L1524.2 389.6L1522.7 389.6L1522.7 390L1521.2 390L1521.2 390.1L1518.4 390.1L1518.4 389.6L1516.2 389.6L1516.2 389.4L1513.4 389.4L1513.4 389.5L1512.4 389.5L1512.4 389.6L1511.2 389.6L1511.2 390.1L1509.7 390.1L1509.7 389.3L1508.2 389.3L1508.2 389.3L1505.4 389.3L1505.4 390L1503.2 390L1503.2 389.8L1501 389.8L1501 389.8L1498.8 389.8L1498.8 389.3L1497 389.3L1497 389.5L1495.2 389.5L1495.2 389.9L1493.7 389.9L1493.7 389.5L1490.9 389.5L1490.9 390.2L1488.7 390.2L1488.7 389.5L1486.9 389.5L1486.9 390.2L1485.7 390.2L1485.7 389.9L1484.5 389.9L1484.5 389.6L1483.5 389.6L1483.5 390L1480.7 390L1480.7 390.1L1479.5 390.1L1479.5 389.4L1477.3 389.4L1477.3 389.4L1474.5 389.4L1474.5 389.8L1472.7 389.8L1472.7 390L1471.5 390L1471.5 389.7L1470.5 389.7L1470.5 389.6L1469.3 389.6L1469.3 389.9L1468.1 389.9L1468.1 390.1L1466.3 390.1L1466.3 389.9L1465.1 389.9L1465.1 390L1464.1 390L1464.1 390L1461.9 390L1461.9 390.1L1460.4 390.1L1460.4 390.1L1458.2 390.1L1458.2 390.1L1457.2 390.1L1457.2 390.1L1454.4 390.1L1454.4 389.6L1453.2 389.6L1453.2 389.8L1451 389.8L1451 390.1L1448.8 390.1L1448.8 389.6L1446 389.6L1446 389.7L1444.8 389.7L1444.8 389.5L1443 389.5L1443 389.7L1441.5 389.7L1441.5 389.9L1439.7 389.9L1439.7 389.5L1438.2 389.5L1438.2 390.3L1437.2 390.3L1437.2 389.5L1435.4 389.5L1435.4 390L1433.2 390L1433.2 390.3L1431.4 390.3L1431.4 390L1430.2 390L1430.2 390L1428.4 390L1428.4 390.1L1426.2 390.1L1426.2 390L1424 390L1424 390.1L1421.8 390.1L1421.8 389.7L1420.6 389.7L1420.6 389.7L1419.6 389.7L1419.6 389.4L1418.4 389.4L1418.4 389.5L1416.6 389.5L1416.6 389.7L1415.4 389.7L1415.4 389.9L1413.2 389.9L1413.2 390.4L1412 390.4L1412 389.6L1410.2 389.6L1410.2 389.8L1407.4 389.8L1407.4 389.6L1405.2 389.6L1405.2 390.2L1403.4 390.2L1403.4 390.4L1402.2 390.4L1402.2 389.6L1400.4 389.6L1400.4 390.4L1398.6 390.4L1398.6 389.7L1397.6 389.7L1397.6 389.4L1396.1 389.4L1396.1 390.4L1394.6 390.4L1394.6 389.5L1393.4 389.5L1393.4 389.8L1391.2 389.8L1391.2 389.7L1388.4 389.7L1388.4 390.3L1387.2 390.3L1387.2 390.4L1386 390.4L1386 389.6L1384.5 389.6L1384.5 389.8L1383.5 389.8L1383.5 389.6L1380.7 389.6L1380.7 390L1378.9 390L1378.9 390.2L1376.7 390.2L1376.7 389.9L1374.5 389.9L1374.5 390.3L1373 390.3L1373 390.2L1370.8 390.2L1370.8 390.1L1369.6 390.1L1369.6 390.2L1368.1 390.2L1368.1 390.3L1366.9 390.3L1366.9 389.5L1365.9 389.5L1365.9 390.1L1364.4 390.1L1364.4 389.7L1361.6 389.7L1361.6 390.2L1360.4 390.2L1360.4 390.3L1358.2 390.3L1358.2 390.4L1357 390.4L1357 390.1L1355.5 390.1L1355.5 390L1352.7 390L1352.7 389.9L1351.2 389.9L1351.2 389.9L1349 389.9L1349 390.1L1347.5 390.1L1347.5 390.2L1346.5 390.2L1346.5 390.2L1345 390.2L1345 390.2L1343.2 390.2L1343.2 389.5L1340.4 389.5L1340.4 389.8L1338.9 389.8L1338.9 389.9L1336.1 389.9L1336.1 389.7L1333.3 389.7L1333.3 389.6L1331.1 389.6L1331.1 390.1L1329.9 390.1L1329.9 389.5L1328.9 389.5L1328.9 390.4L1326.7 390.4L1326.7 390.2L1325.5 390.2L1325.5 390.4L1324.5 390.4L1324.5 389.8L1321.7 389.8L1321.7 389.7L1319.9 389.7L1319.9 390L1317.7 390L1317.7 389.8L1315.5 389.8L1315.5 390.2L1313.7 390.2L1313.7 390.4L1312.5 390.4L1312.5 389.6L1311.3 389.6L1311.3 390.3L1309.5 390.3L1309.5 390.5L1307.3 390.5L1307.3 389.5L1305.1 389.5L1305.1 389.7L1302.3 389.7L1302.3 389.6L1300.1 389.6L1300.1 389.5L1297.3 389.5L1297.3 390.2L1296.3 390.2L1296.3 390.2L1293.5 390.2L1293.5 390.2L1291.3 390.2L1291.3 389.9L1290.3 389.9L1290.3 390.4L1289.1 390.4L1289.1 389.8L1286.3 389.8L1286.3 390L1284.5 390L1284.5 390.1L1282.3 390.1L1282.3 390.3L1281.1 390.3L1281.1 389.5L1280.1 389.5L1280.1 390.1L1277.9 390.1L1277.9 390L1276.1 390L1276.1 390L1274.9 390L1274.9 390.1L1273.1 390.1L1273.1 390L1271.9 390L1271.9 390L1270.4 390L1270.4 389.6L1268.6 389.6L1268.6 389.9L1266.4 389.9L1266.4 390.3L1265.2 390.3L1265.2 389.9L1262.4 389.9L1262.4 390.1L1261.4 390.1L1261.4 389.9L1259.6 389.9L1259.6 390.1L1257.4 390.1L1257.4 389.9L1255.9 389.9L1255.9 390.5L1254.7 390.5L1254.7 389.9L1251.9 389.9L1251.9 390.2L1249.7 390.2L1249.7 390.4L1248.7 390.4L1248.7 390.2L1247.7 390.2L1247.7 389.9L1245.9 389.9L1245.9 390.1L1244.7 390.1L1244.7 390.5L1243.7 390.5L1243.7 390.3L1241.5 390.3L1241.5 390.1L1239.3 390.1L1239.3 390.4L1237.8 390.4L1237.8 390.1L1236.6 390.1L1236.6 390L1235.4 390L1235.4 389.7L1233.6 389.7L1233.6 390.5L1231.8 390.5L1231.8 390.3L1230.6 390.3L1230.6 389.6L1227.8 389.6L1227.8 390.4L1226.3 390.4L1226.3 389.7L1225.1 389.7L1225.1 389.6L1222.3 389.6L1222.3 390.2L1220.8 390.2L1220.8 390.2L1218.6 390.2L1218.6 390.1L1215.8 390.1L1215.8 390.2L1214.3 390.2L1214.3 389.9L1213.3 389.9L1213.3 390L1211.5 390L1211.5 390.2L1209.7 390.2L1209.7 390.3L1207.5 390.3L1207.5 389.9L1206.5 389.9L1206.5 390.5L1203.7 390.5L1203.7 389.8L1201.9 389.8L1201.9 390.4L1200.9 390.4L1200.9 389.6L1199.4 389.6L1199.4 390.2L1198.2 390.2L1198.2 390.2L1195.4 390.2L1195.4 390.2L1194.4 390.2L1194.4 390.5L1192.6 390.5L1192.6 390.5L1190.4 390.5L1190.4 389.9L1188.9 389.9L1188.9 390.2L1186.1 390.2L1186.1 389.8L1184.6 389.8L1184.6 390.3L1182.8 390.3L1182.8 390.1L1180 390.1L1180 390.4L1177.8 390.4L1177.8 390.3L1176.8 390.3L1176.8 390.2L1175 390.2L1175 389.9L1173.2 389.9L1173.2 390.2L1172 390.2L1172 389.7L1170.2 389.7L1170.2 390.4L1167.4 390.4L1167.4 389.9L1166.2 389.9L1166.2 390.4L1164.4 390.4L1164.4 390.1L1163.2 390.1L1163.2 389.8L1162.2 389.8L1162.2 390L1161 390L1161 390.1L1158.8 390.1L1158.8 390L1157 390L1157 390.4L1154.8 390.4L1154.8 389.8L1152 389.8L1152 390L1149.2 390L1149.2 390.6L1147.7 390.6L1147.7 390.1L1145.5 390.1L1145.5 390.4L1144.5 390.4L1144.5 390.5L1142.3 390.5L1142.3 389.9L1141.3 389.9L1141.3 390.6L1139.8 390.6L1139.8 390L1137 390L1137 390L1135.8 390L1135.8 389.7L1134.6 389.7L1134.6 390.4L1133.1 390.4L1133.1 390.5L1132.1 390.5L1132.1 389.9L1130.6 389.9L1130.6 389.7L1129.6 389.7L1129.6 390.5L1128.4 390.5L1128.4 389.7L1126.6 389.7L1126.6 390.1L1125.6 390.1L1125.6 390.5L1124.6 390.5L1124.6 389.8L1122.8 389.8L1122.8 389.7L1121.8 389.7L1121.8 390.1L1119 390.1L1119 390.2L1117.8 390.2L1117.8 390.6L1115.6 390.6L1115.6 389.9L1114.4 389.9L1114.4 390.5L1112.9 390.5L1112.9 389.7L1111.9 389.7L1111.9 389.9L1109.7 389.9L1109.7 390.3L1108.7 390.3L1108.7 389.8L1105.9 389.8L1105.9 390.4L1103.1 390.4L1103.1 390.4L1100.9 390.4L1100.9 390.3L1099.1 390.3L1099.1 390.3L1097.6 390.3L1097.6 390.4L1096.4 390.4L1096.4 389.9L1093.6 389.9L1093.6 389.9L1091.8 389.9L1091.8 390.4L1090.8 390.4L1090.8 389.8L1089.8 389.8L1089.8 390.2L1088.8 390.2L1088.8 385.7L1039.2 385.7L1039.2 390.8L1039.1 390.8L1039.1 390.4L1037.9 390.4L1037.9 390.2L1036.7 390.2L1036.7 390.8L1033.9 390.8L1033.9 390.4L1032.4 390.4L1032.4 390.6L1031.2 390.6L1031.2 390.2L1030.2 390.2L1030.2 390.6L1027.4 390.6L1027.4 390.5L1026.4 390.5L1026.4 390.4L1023.6 390.4L1023.6 390.4L1022.1 390.4L1022.1 390.4L1020.3 390.4L1020.3 390.1L1018.1 390.1L1018.1 390L1016.9 390L1016.9 390.3L1015.1 390.3L1015.1 390.8L1014.1 390.8L1014.1 390.2L1012.6 390.2L1012.6 390.2L1011.6 390.2L1011.6 390L1010.4 390L1010.4 390L1009.4 390L1009.4 390.5L1007.9 390.5L1007.9 390.2L1006.9 390.2L1006.9 390.9L1005.7 390.9L1005.7 390.8L1004.2 390.8L1004.2 390L1003 390L1003 390.6L1002 390.6L1002 390.5L1000.5 390.5L1000.5 390.1L998.7 390.1L998.7 390.6L996.9 390.6L996.9 389.9L994.7 389.9L994.7 390.6L993.7 390.6L993.7 390.4L992.7 390.4L992.7 390.3L991.2 390.3L991.2 390.4L989 390.4L989 390.4L988 390.4L988 390.1L986.5 390.1L986.5 388.6L984 388.6L984 390.8L982.8 390.8L982.8 390.2L981.8 390.2L981.8 390.9L980.8 390.9L980.8 390.3L979.8 390.3L979.8 390.8L977 390.8L977 390.4L975.8 390.4L975.8 390.6L974.8 390.6L974.8 390.8L972 390.8L972 390.5L969.8 390.5L969.8 390.7L967.6 390.7L967.6 390.1L966.6 390.1L966.6 390.7L965.6 390.7L965.6 390.8L964.1 390.8L964.1 390L961.3 390L961.3 390.8L959.8 390.8L959.8 390.6L957 390.6L957 390.1L956 390.1L956 387L856 387L856 390.7L854.9 390.7L854.9 390.7L853.4 390.7L853.4 390.3L851.2 390.3L851.2 390.8L849.4 390.8L849.4 390.2L848.2 390.2L848.2 389.9L847.2 389.9L847.2 390.4L846.2 390.4L846.2 390.8L845 390.8L845 390.3L843.5 390.3L843.5 390.5L842.3 390.5L842.3 390.2L840.5 390.2L840.5 390L838.7 390L838.7 390.2L837.2 390.2L837.2 390.2L836.2 390.2L836.2 390.9L834.7 390.9L834.7 390.2L831.9 390.2L831.9 390.2L830.9 390.2L830.9 390.7L829.7 390.7L829.7 390.1L827.5 390.1L827.5 390.4L825.3 390.4L825.3 390.8L823.8 390.8L823.8 390.4L821 390.4L821 389.9L819.2 389.9L819.2 390.5L818 390.5L818 390.3L816.5 390.3L816.5 390.1L815.3 390.1L815.3 390.2L814.1 390.2L814.1 390.5L811.9 390.5L811.9 390.3L810.9 390.3L810.9 390L808.1 390L808.1 390.3L807.1 390.3L807.1 390.4L804.9 390.4L804.9 390L803.4 390L803.4 390.3L800.6 390.3L800.6 390.3L799.4 390.3L799.4 390.8L798.4 390.8L798.4 389.9L797.4 389.9L797.4 390.2L795.6 390.2L795.6 390.1L793.4 390.1L793.4 390.2L791.6 390.2L791.6 390.3L790.1 390.3L790.1 389.9L787.9 389.9L787.9 390.5L785.7 390.5L785.7 390L783.9 390L783.9 390.7L782.1 390.7L782.1 390.4L779.3 390.4L779.3 384.7L771 384.7L771 390.6L768.3 390.6L768.3 390.1L766.5 390.1L766.5 389.9L765.5 389.9L765.5 390.9L764 390.9L764 390.3L761.2 390.3L761.2 390.3L760.2 390.3L760.2 389.9L759 389.9L759 390.5L757.5 390.5L757.5 390L756.3 390L756.3 390.2L753.5 390.2L753.5 389.9L752.3 389.9L752.3 390.1L751.3 390.1L751.3 389.9L750.3 389.9L750.3 390L748.1 390L748.1 390.3L746.6 390.3L746.6 390.6L745.4 390.6L745.4 390.5L744.4 390.5L744.4 390.8L742.2 390.8L742.2 390.2L740.4 390.2L740.4 390L739.2 390L739.2 390.5L737 390.5L737 390.6L736 390.6L736 390.5L734.8 390.5L734.8 390.9L733.3 390.9L733.3 390L732.1 390L732.1 390.1L731.1 390.1L731.1 390.6L730.1 390.6L730.1 390.8L727.3 390.8L727.3 390.8L726.1 390.8L726.1 390.4L723.9 390.4L723.9 390.5L722.7 390.5L722.7 390.3L720.9 390.3L720.9 390.7L719.7 390.7L719.7 390.3L717.9 390.3L717.9 390.9L716.7 390.9L716.7 390.7L715.7 390.7L715.7 390.9L714.7 390.9L714.7 390.5L713.5 390.5L713.5 390.5L710.7 390.5L710.7 390.4L709.7 390.4L709.7 390L706.9 390L706.9 390.5L705.1 390.5L705.1 390.3L703.3 390.3L703.3 390.6L701.1 390.6L701.1 390.6L698.3 390.6L698.3 390.2L697.3 390.2L697.3 390.1L695.1 390.1L695.1 390.6L694.1 390.6L694.1 390.4L692.9 390.4L692.9 389.9L690.7 389.9L690.7 390.2L689.5 390.2L689.5 390.2L687.7 390.2L687.7 390.1L685.9 390.1L685.9 390.1L683.7 390.1L683.7 390.9L682.5 390.9L682.5 390.5L681 390.5L681 390.2L678.2 390.2L678.2 390.3L676.7 390.3L676.7 390.6L674.9 390.6L674.9 390.4L672.1 390.4L672.1 390.5L670.9 390.5L670.9 390.2L669.4 390.2L669.4 390L666.6 390L666.6 390.3L665.4 390.3L665.4 390.3L663.6 390.3L663.6 390.5L660.8 390.5L660.8 389.9L659 389.9L659 390.3L657.2 390.3L657.2 390.6L656 390.6L656 390.4L654.5 390.4L654.5 390.6L652.3 390.6L652.3 390.7L650.8 390.7L650.8 390.2L649.3 390.2L649.3 390L647.1 390L647.1 390L646.1 390L646.1 390.5L644.6 390.5L644.6 390.1L643.4 390.1L643.4 390.6L641.2 390.6L641.2 390.4L640.2 390.4L640.2 390.2L637.4 390.2L637.4 390.8L634.6 390.8L634.6 390.7L632.4 390.7L632.4 389.9L630.6 389.9L630.6 390L629.6 390L629.6 390L626.8 390L626.8 390.3L625.3 390.3L625.3 390.8L623.1 390.8L623.1 390.8L620.9 390.8L620.9 390.8L618.7 390.8L618.7 390.7L617.7 390.7L617.7 390.4L616.5 390.4L616.5 390.4L615.5 390.4L615.5 390.8L614.3 390.8L614.3 390.8L612.1 390.8L612.1 390.5L611.1 390.5L611.1 390.2L608.9 390.2L608.9 389.9L607.4 389.9L607.4 390.5L606.4 390.5L606.4 390.5L604.6 390.5L604.6 390.1L602.4 390.1L602.4 390.9L599.6 390.9L599.6 390.6L597.4 390.6L597.4 390.6L595.9 390.6L595.9 390.6L594.4 390.6L594.4 390.5L593.4 390.5L593.4 390.3L591.6 390.3L591.6 390L588.8 390L588.8 390.7L586 390.7L586 390L584.8 390L584.8 390.4L583.6 390.4L583.6 390.8L582.4 390.8L582.4 390.1L581.2 390.1L581.2 390.8L579.4 390.8L579.4 390.8L578.2 390.8L578.2 390.7L576.4 390.7L576.4 390.3L574.9 390.3L574.9 389.9L573.9 389.9L573.9 390.6L572.1 390.6L572.1 390.4L569.9 390.4L569.9 390.7L568.9 390.7L568.9 390.7L567.7 390.7L567.7 390L566.5 390L566.5 390.1L565.3 390.1L565.3 390L563.5 390L563.5 390.4L562.5 390.4L562.5 390.5L560.3 390.5L560.3 390.6L558.1 390.6L558.1 390.1L557.1 390.1L557.1 390.1L554.9 390.1L554.9 390.1L553.9 390.1L553.9 390.7L551.1 390.7L551.1 390.4L549.6 390.4L549.6 390.6L546.8 390.6L546.8 389.9L545.3 389.9L545.3 390.1L543.1 390.1L543.1 390.8L540.9 390.8L540.9 390.2L539.4 390.2L539.4 390.3L537.2 390.3L537.2 390.3L536 390.3L536 390.5L534.8 390.5L534.8 390.5L532.6 390.5L532.6 390.1L531.4 390.1L531.4 390.3L529.9 390.3L529.9 390.8L527.1 390.8L527.1 390.3L525.3 390.3L525.3 390.9L524.1 390.9L524.1 390.9L522.6 390.9L522.6 390.3L520.8 390.3L520.8 390.1L519 390.1L519 390.5L517.5 390.5L517.5 389.9L516.5 389.9L516.5 390.5L515.3 390.5L515.3 390.8L513.1 390.8L513.1 390.1L511.9 390.1L511.9 390.5L509.7 390.5L509.7 390.3L507.9 390.3L507.9 390.1L505.7 390.1L505.7 389.9L504.5 389.9L504.5 390.6L503.3 390.6L503.3 390.1L501.8 390.1L501.8 390.4L500.6 390.4L500.6 390.7L499.1 390.7L499.1 390.9L498.1 390.9L498.1 390.4L495.3 390.4L495.3 390.6L493.1 390.6L493.1 390.9L491.9 390.9L491.9 390.8L490.7 390.8L490.7 390.8L487.9 390.8L487.9 390.6L486.7 390.6L486.7 390.4L485.2 390.4L485.2 390.1L482.4 390.1L482.4 390.7L481.4 390.7L481.4 390.7L480.2 390.7L480.2 390.1L478 390.1L478 390.6L477 390.6L477 390.7L475.2 390.7L475.2 390L474 390L474 390.6L471.8 390.6L471.8 390.1L470.3 390.1L470.3 390L467.5 390L467.5 390.2L464.7 390.2L464.7 390.1L462.9 390.1L462.9 390.3L460.1 390.3L460.1 390.7L459.1 390.7L459.1 390.4L456.3 390.4L456.3 390.8L455.1 390.8L455.1 390.2L453.6 390.2L453.6 390.2L452.6 390.2L452.6 390.9L449.8 390.9L449.8 390.9L447.6 390.9L447.6 390.1L446.6 390.1L446.6 390.9L445.1 390.9L445.1 390.3L444.1 390.3L444.1 389.9L441.3 389.9L441.3 390.3L440.3 390.3L440.3 390.7L438.1 390.7L438.1 390.4L436.9 390.4L436.9 390.4L435.7 390.4L435.7 390.5L434.5 390.5L434.5 390.3L431.7 390.3L431.7 390L430.5 390L430.5 390.8L427.7 390.8L427.7 390.1L426.2 390.1L426.2 389.9L425 389.9L425 390.6L422.2 390.6L422.2 390.3L420 390.3L420 390.4L417.2 390.4L417.2 390.7L414.4 390.7L414.4 390.3L413.2 390.3L413.2 389.9L411.4 389.9L411.4 390.5L409.9 390.5L409.9 390.1L408.1 390.1L408.1 390.8L406.6 390.8L406.6 390.2L404.8 390.2L404.8 390.7L403.8 390.7L403.8 389.9L402 389.9L402 391.5L401.8 391.5L401.8 391.7L400.8 391.7L400.8 391.5L398 391.5L398 391.2L396.8 391.2L396.8 391.2L395 391.2L395 391.4L394 391.4L394 391.6L393 391.6L393 391.4L392 391.4L392 391.6L390.5 391.6L390.5 391.8L389.3 391.8L389.3 391L387.5 391L387.5 391.7L386 391.7L386 390.9L384.2 390.9L384.2 391.5L382.4 391.5L382.4 391.4L381.4 391.4L381.4 391.3L379.9 391.3L379.9 391.7L378.1 391.7L378.1 391.7L375.9 391.7L375.9 391.7L374.9 391.7L374.9 391.7L372.7 391.7L372.7 391.2L371.2 391.2L371.2 391.2L369.4 391.2L369.4 391.1L366.6 391.1L366.6 391.8L365.4 391.8L365.4 391.4L363.6 391.4L363.6 391.6L362.1 391.6L362.1 391.7L361.1 391.7L361.1 391.4L359.3 391.4L359.3 391.4L356.5 391.4L356.5 391.4L354.3 391.4L354.3 391.8L352.1 391.8L352.1 390.9L351.1 390.9L351.1 391.9L349.6 391.9L349.6 391.2L348.4 391.2L348.4 391.8L346.2 391.8L346.2 391.6L344 391.6L344 390.6L342.6 390.6L342.6 390.7L339.8 390.7L339.8 390.6L338.3 390.6L338.3 390.7L337.3 390.7L337.3 389.9L335.1 389.9L335.1 390.1L333.6 390.1L333.6 390L330.8 390L330.8 390L329.8 390L329.8 390.3L327.6 390.3L327.6 389.9L326.6 389.9L326.6 390.8L325.1 390.8L325.1 390.4L323.3 390.4L323.3 390.3L321.8 390.3L321.8 390L320 390L320 390.5L319 390.5L319 390.6L317.8 390.6L317.8 390.2L316.6 390.2L316.6 390.2L314.4 390.2L314.4 390.7L312.6 390.7L312.6 390.8L311.1 390.8L311.1 390.7L309.3 390.7L309.3 390.1L307.5 390.1L307.5 390.5L306.3 390.5L306.3 390L303.5 390L303.5 390.2L301.7 390.2L301.7 390.4L300.5 390.4L300.5 389.9L299.3 389.9L299.3 390.1L298.1 390.1L298.1 390.2L297.1 390.2L297.1 390.2L294.3 390.2L294.3 390.5L292.8 390.5L292.8 390.9L290.6 390.9L290.6 390.3L287.8 390.3L287.8 390.3L286.3 390.3L286.3 390.7L284.8 390.7L284.8 390.1L282 390.1L282 390.4L279.8 390.4L279.8 390.8L278.6 390.8L278.6 390.6L277.1 390.6L277.1 390.3L276.1 390.3L276.1 390.6L274.3 390.6L274.3 390.2L272.5 390.2L272.5 390.3L270.7 390.3L270.7 390.9L269.5 390.9L269.5 390.5L268.3 390.5L268.3 390.8L266.5 390.8L266.5 390.8L264.7 390.8L264.7 390.8L263.7 390.8L263.7 390.5L260.9 390.5L260.9 390.2L258.7 390.2L258.7 390.7L257.7 390.7L257.7 389.9L254.9 389.9L254.9 390.4L253.9 390.4L253.9 390.3L251.7 390.3L251.7 390.8L250.5 390.8L250.5 390.1L248.7 390.1L248.7 390L246.5 390L246.5 390.4L245 390.4L245 390L243.5 390L243.5 390.2L240.7 390.2L240.7 390.3L238.9 390.3L238.9 390.1L237.9 390.1L237.9 390.3L235.7 390.3L235.7 390.7L232.9 390.7L232.9 390.8L231.7 390.8L231.7 390.3L230.7 390.3L230.7 390.7L229.2 390.7L229.2 390.4L227.4 390.4L227.4 390.6L226.2 390.6L226.2 389.9L223.4 389.9L223.4 390.5L220.6 390.5L220.6 390.2L218.8 390.2L218.8 390.7L216 390.7L216 391L213.8 391L213.8 386.4L195.6 386.4Z"/>
<rect x="195.7" y="342" width="3.1" height="441.4" fill="#ff0000"/>
<path stroke="#4a0000" stroke-width="2.6" stroke-dasharray="12.9 13.21" fill="none" d="M197 364.4H1683"/>
<g class="tk" text-anchor="end">
<text x="183.7" y="43.5">1.2</text>
<text x="183.7" y="127.2">1.15</text>
<text x="183.7" y="210.9">1.1</text>
<text x="183.7" y="294.6">1.05</text>
<text x="183.7" y="378.3">1</text>
<text x="183.7" y="462">0.95</text>
<text x="183.7" y="545.7">0.9</text>
<text x="183.7" y="629.4">0.85</text>
<text x="183.7" y="713.1">0.8</text>
<text x="183.7" y="796.8">0.75</text>
</g>
<g class="tk" text-anchor="middle">
<text x="197" y="829.7">0</text>
<text x="345.5" y="829.7">100</text>
<text x="494" y="829.7">200</text>
<text x="642.4" y="829.7">300</text>
<text x="790.9" y="829.7">400</text>
<text x="939.4" y="829.7">500</text>
<text x="1087.9" y="829.7">600</text>
<text x="1236.4" y="829.7">700</text>
<text x="1384.8" y="829.7">800</text>
<text x="1533.3" y="829.7">900</text>
<text x="1681.8" y="829.7">1000</text>
</g>
<text class="lb" y="876"><tspan x="862" style="letter-spacing:1.55px">Time</tspan> <tspan x="968.4">(s)</tspan></text>
<text class="lb" style="letter-spacing:0.15px" text-anchor="middle" transform="translate(48.5 406.4) rotate(-90)">Stator Flux (wb)</text>
<rect x="508.8" y="41.2" width="862.9" height="43.8" fill="#fff" stroke="#8a8a8a" stroke-width="1.2"/>
<g fill="none" stroke-width="2.7">
<path stroke="#1a1aff" d="M515.5 62.8H580.5"/>
<path stroke="#c6c61a" d="M673.3 62.8H738.4"/>
<path stroke="#ff1a1a" d="M895.4 62.8H960.9"/>
<path stroke="#5e5e5e" stroke-dasharray="13.6 12.6" d="M1051.8 62.8H1118"/>
</g>
<g class="lg">
<text y="74"><tspan x="586.6" style="letter-spacing:0.7px">DTC</tspan></text>
<text y="74"><tspan x="744.4" style="letter-spacing:0.3px">MP</tspan> <tspan x="808.4" style="letter-spacing:0.7px">DTC</tspan></text>
<text y="74"><tspan x="966.8" style="letter-spacing:1.2px">PVC</tspan></text>
<text y="74"><tspan x="1123.2" style="letter-spacing:0.2px">Ref.</tspan> <tspan x="1191" style="letter-spacing:0.8px">Stator</tspan> <tspan x="1296" style="letter-spacing:-0.2px">Flux</tspan></text>
</g>
</g>
</svg>
</body>
</html>
